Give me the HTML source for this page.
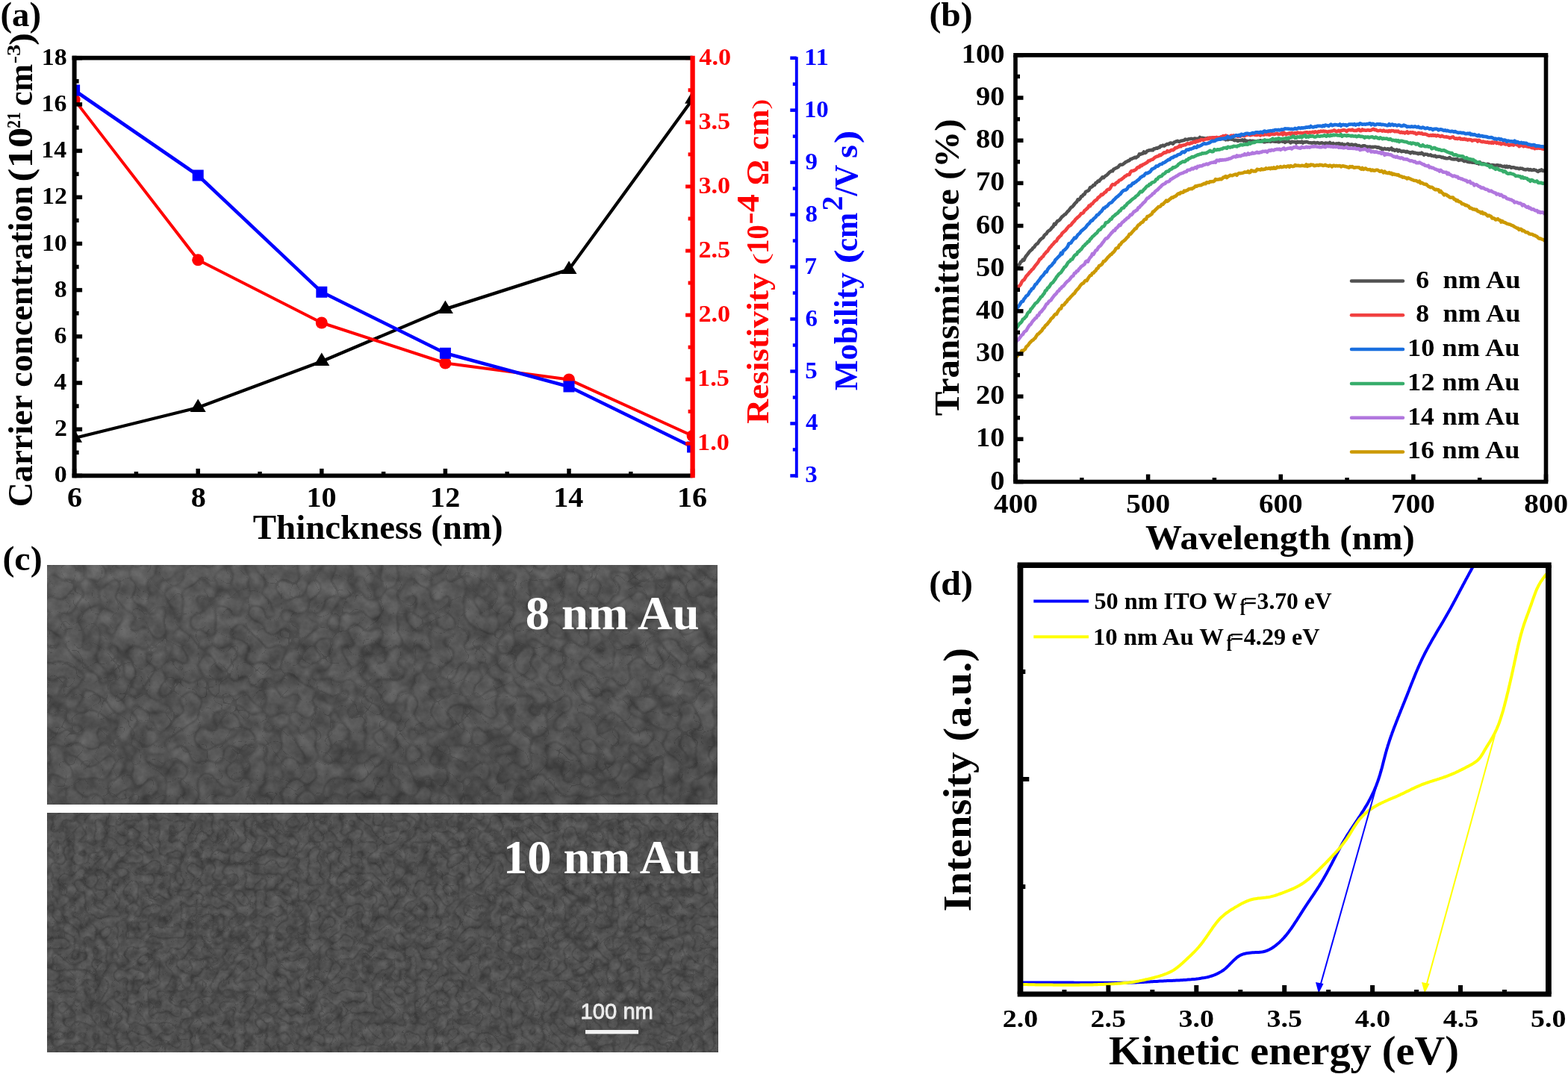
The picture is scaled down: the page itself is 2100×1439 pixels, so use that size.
<!DOCTYPE html>
<html><head><meta charset="utf-8"><title>Figure</title>
<style>html,body{margin:0;padding:0;background:#fff;width:2100px;height:1439px;overflow:hidden}svg{display:block}</style>
</head><body>
<svg width="2100" height="1439" viewBox="0 0 2100 1439" font-family="'Liberation Serif','Times New Roman',serif"><clipPath id="clipA"><rect x="99.6" y="77.7" width="828.0" height="559.6999999999999"/></clipPath>
<g clip-path="url(#clipA)">
<polyline points="99.6,587.0 265.2,546.1 430.8,484.2 596.4,414.1 762.0,361.1 927.6,133.0" fill="none" stroke="#000" stroke-width="4.3" stroke-linejoin="round" />
<polygon points="99.6,575.3 110.1,592.8 89.1,592.8" fill="#000"/>
<polygon points="265.2,534.4 275.7,551.9 254.7,551.9" fill="#000"/>
<polygon points="430.8,472.5 441.3,490.0 420.3,490.0" fill="#000"/>
<polygon points="596.4,402.4 606.9,419.9 585.9,419.9" fill="#000"/>
<polygon points="762.0,349.4 772.5,366.9 751.5,366.9" fill="#000"/>
<polygon points="927.6,121.3 938.1,138.8 917.1,138.8" fill="#000"/>
<polyline points="99.6,133.6 265.2,348.3 430.8,432.5 596.4,486.5 762.0,508.5 927.6,584.0" fill="none" stroke="#f00" stroke-width="4.0" stroke-linejoin="round" />
<circle cx="99.6" cy="133.6" r="8" fill="#f00"/>
<circle cx="265.2" cy="348.3" r="8" fill="#f00"/>
<circle cx="430.8" cy="432.5" r="8" fill="#f00"/>
<circle cx="596.4" cy="486.5" r="8" fill="#f00"/>
<circle cx="762.0" cy="508.5" r="8" fill="#f00"/>
<circle cx="927.6" cy="584.0" r="8" fill="#f00"/>
<polyline points="99.6,121.0 265.2,235.0 430.8,391.3 596.4,473.3 762.0,518.0 927.6,599.0" fill="none" stroke="#00f" stroke-width="4.6" stroke-linejoin="round" />
<rect x="92.1" y="113.5" width="15" height="15" fill="#00f"/>
<rect x="257.7" y="227.5" width="15" height="15" fill="#00f"/>
<rect x="423.3" y="383.8" width="15" height="15" fill="#00f"/>
<rect x="588.9" y="465.8" width="15" height="15" fill="#00f"/>
<rect x="754.5" y="510.5" width="15" height="15" fill="#00f"/>
<rect x="920.1" y="591.5" width="15" height="15" fill="#00f"/>
</g>
<line x1="99.60" y1="637.40" x2="110.10" y2="637.40" stroke="#000" stroke-width="5.5" stroke-linecap="butt"/>
<line x1="99.60" y1="606.31" x2="105.60" y2="606.31" stroke="#000" stroke-width="5.5" stroke-linecap="butt"/>
<line x1="99.60" y1="575.21" x2="110.10" y2="575.21" stroke="#000" stroke-width="5.5" stroke-linecap="butt"/>
<line x1="99.60" y1="544.12" x2="105.60" y2="544.12" stroke="#000" stroke-width="5.5" stroke-linecap="butt"/>
<line x1="99.60" y1="513.02" x2="110.10" y2="513.02" stroke="#000" stroke-width="5.5" stroke-linecap="butt"/>
<line x1="99.60" y1="481.93" x2="105.60" y2="481.93" stroke="#000" stroke-width="5.5" stroke-linecap="butt"/>
<line x1="99.60" y1="450.83" x2="110.10" y2="450.83" stroke="#000" stroke-width="5.5" stroke-linecap="butt"/>
<line x1="99.60" y1="419.74" x2="105.60" y2="419.74" stroke="#000" stroke-width="5.5" stroke-linecap="butt"/>
<line x1="99.60" y1="388.64" x2="110.10" y2="388.64" stroke="#000" stroke-width="5.5" stroke-linecap="butt"/>
<line x1="99.60" y1="357.55" x2="105.60" y2="357.55" stroke="#000" stroke-width="5.5" stroke-linecap="butt"/>
<line x1="99.60" y1="326.46" x2="110.10" y2="326.46" stroke="#000" stroke-width="5.5" stroke-linecap="butt"/>
<line x1="99.60" y1="295.36" x2="105.60" y2="295.36" stroke="#000" stroke-width="5.5" stroke-linecap="butt"/>
<line x1="99.60" y1="264.27" x2="110.10" y2="264.27" stroke="#000" stroke-width="5.5" stroke-linecap="butt"/>
<line x1="99.60" y1="233.17" x2="105.60" y2="233.17" stroke="#000" stroke-width="5.5" stroke-linecap="butt"/>
<line x1="99.60" y1="202.08" x2="110.10" y2="202.08" stroke="#000" stroke-width="5.5" stroke-linecap="butt"/>
<line x1="99.60" y1="170.98" x2="105.60" y2="170.98" stroke="#000" stroke-width="5.5" stroke-linecap="butt"/>
<line x1="99.60" y1="139.89" x2="110.10" y2="139.89" stroke="#000" stroke-width="5.5" stroke-linecap="butt"/>
<line x1="99.60" y1="108.79" x2="105.60" y2="108.79" stroke="#000" stroke-width="5.5" stroke-linecap="butt"/>
<line x1="99.60" y1="77.70" x2="110.10" y2="77.70" stroke="#000" stroke-width="5.5" stroke-linecap="butt"/>
<line x1="99.60" y1="637.40" x2="99.60" y2="627.90" stroke="#000" stroke-width="5.5" stroke-linecap="butt"/>
<line x1="182.40" y1="637.40" x2="182.40" y2="631.90" stroke="#000" stroke-width="5.5" stroke-linecap="butt"/>
<line x1="265.20" y1="637.40" x2="265.20" y2="627.90" stroke="#000" stroke-width="5.5" stroke-linecap="butt"/>
<line x1="348.00" y1="637.40" x2="348.00" y2="631.90" stroke="#000" stroke-width="5.5" stroke-linecap="butt"/>
<line x1="430.80" y1="637.40" x2="430.80" y2="627.90" stroke="#000" stroke-width="5.5" stroke-linecap="butt"/>
<line x1="513.60" y1="637.40" x2="513.60" y2="631.90" stroke="#000" stroke-width="5.5" stroke-linecap="butt"/>
<line x1="596.40" y1="637.40" x2="596.40" y2="627.90" stroke="#000" stroke-width="5.5" stroke-linecap="butt"/>
<line x1="679.20" y1="637.40" x2="679.20" y2="631.90" stroke="#000" stroke-width="5.5" stroke-linecap="butt"/>
<line x1="762.00" y1="637.40" x2="762.00" y2="627.90" stroke="#000" stroke-width="5.5" stroke-linecap="butt"/>
<line x1="844.80" y1="637.40" x2="844.80" y2="631.90" stroke="#000" stroke-width="5.5" stroke-linecap="butt"/>
<line x1="927.60" y1="637.40" x2="927.60" y2="627.90" stroke="#000" stroke-width="5.5" stroke-linecap="butt"/>
<line x1="927.60" y1="637.40" x2="921.60" y2="637.40" stroke="#f00" stroke-width="5" stroke-linecap="butt"/>
<line x1="927.60" y1="594.35" x2="918.10" y2="594.35" stroke="#f00" stroke-width="5" stroke-linecap="butt"/>
<line x1="927.60" y1="551.29" x2="921.60" y2="551.29" stroke="#f00" stroke-width="5" stroke-linecap="butt"/>
<line x1="927.60" y1="508.24" x2="918.10" y2="508.24" stroke="#f00" stroke-width="5" stroke-linecap="butt"/>
<line x1="927.60" y1="465.18" x2="921.60" y2="465.18" stroke="#f00" stroke-width="5" stroke-linecap="butt"/>
<line x1="927.60" y1="422.13" x2="918.10" y2="422.13" stroke="#f00" stroke-width="5" stroke-linecap="butt"/>
<line x1="927.60" y1="379.08" x2="921.60" y2="379.08" stroke="#f00" stroke-width="5" stroke-linecap="butt"/>
<line x1="927.60" y1="336.02" x2="918.10" y2="336.02" stroke="#f00" stroke-width="5" stroke-linecap="butt"/>
<line x1="927.60" y1="292.97" x2="921.60" y2="292.97" stroke="#f00" stroke-width="5" stroke-linecap="butt"/>
<line x1="927.60" y1="249.92" x2="918.10" y2="249.92" stroke="#f00" stroke-width="5" stroke-linecap="butt"/>
<line x1="927.60" y1="206.86" x2="921.60" y2="206.86" stroke="#f00" stroke-width="5" stroke-linecap="butt"/>
<line x1="927.60" y1="163.81" x2="918.10" y2="163.81" stroke="#f00" stroke-width="5" stroke-linecap="butt"/>
<line x1="927.60" y1="120.75" x2="921.60" y2="120.75" stroke="#f00" stroke-width="5" stroke-linecap="butt"/>
<line x1="927.60" y1="77.70" x2="918.10" y2="77.70" stroke="#f00" stroke-width="5" stroke-linecap="butt"/>
<line x1="1066.80" y1="637.40" x2="1058.30" y2="637.40" stroke="#00f" stroke-width="4.5" stroke-linecap="butt"/>
<line x1="1066.80" y1="602.42" x2="1061.80" y2="602.42" stroke="#00f" stroke-width="4.5" stroke-linecap="butt"/>
<line x1="1066.80" y1="567.44" x2="1058.30" y2="567.44" stroke="#00f" stroke-width="4.5" stroke-linecap="butt"/>
<line x1="1066.80" y1="532.46" x2="1061.80" y2="532.46" stroke="#00f" stroke-width="4.5" stroke-linecap="butt"/>
<line x1="1066.80" y1="497.48" x2="1058.30" y2="497.48" stroke="#00f" stroke-width="4.5" stroke-linecap="butt"/>
<line x1="1066.80" y1="462.49" x2="1061.80" y2="462.49" stroke="#00f" stroke-width="4.5" stroke-linecap="butt"/>
<line x1="1066.80" y1="427.51" x2="1058.30" y2="427.51" stroke="#00f" stroke-width="4.5" stroke-linecap="butt"/>
<line x1="1066.80" y1="392.53" x2="1061.80" y2="392.53" stroke="#00f" stroke-width="4.5" stroke-linecap="butt"/>
<line x1="1066.80" y1="357.55" x2="1058.30" y2="357.55" stroke="#00f" stroke-width="4.5" stroke-linecap="butt"/>
<line x1="1066.80" y1="322.57" x2="1061.80" y2="322.57" stroke="#00f" stroke-width="4.5" stroke-linecap="butt"/>
<line x1="1066.80" y1="287.59" x2="1058.30" y2="287.59" stroke="#00f" stroke-width="4.5" stroke-linecap="butt"/>
<line x1="1066.80" y1="252.61" x2="1061.80" y2="252.61" stroke="#00f" stroke-width="4.5" stroke-linecap="butt"/>
<line x1="1066.80" y1="217.62" x2="1058.30" y2="217.62" stroke="#00f" stroke-width="4.5" stroke-linecap="butt"/>
<line x1="1066.80" y1="182.64" x2="1061.80" y2="182.64" stroke="#00f" stroke-width="4.5" stroke-linecap="butt"/>
<line x1="1066.80" y1="147.66" x2="1058.30" y2="147.66" stroke="#00f" stroke-width="4.5" stroke-linecap="butt"/>
<line x1="1066.80" y1="112.68" x2="1061.80" y2="112.68" stroke="#00f" stroke-width="4.5" stroke-linecap="butt"/>
<line x1="1066.80" y1="77.70" x2="1058.30" y2="77.70" stroke="#00f" stroke-width="4.5" stroke-linecap="butt"/>
<line x1="1066.80" y1="76.20" x2="1066.80" y2="639.90" stroke="#00f" stroke-width="3.9" stroke-linecap="butt"/>
<line x1="96.60" y1="77.70" x2="927.60" y2="77.70" stroke="#000" stroke-width="5.8" stroke-linecap="butt"/>
<line x1="96.60" y1="637.40" x2="927.60" y2="637.40" stroke="#000" stroke-width="5.8" stroke-linecap="butt"/>
<line x1="99.60" y1="74.80" x2="99.60" y2="640.30" stroke="#000" stroke-width="6" stroke-linecap="butt"/>
<line x1="927.60" y1="74.80" x2="927.60" y2="640.30" stroke="#f00" stroke-width="6.3" stroke-linecap="butt"/>
<text x="72.8" y="646.4" font-size="32" text-anchor="start" fill="#000" font-weight="bold" textLength="16.96" lengthAdjust="spacingAndGlyphs" >0</text>
<text x="73.0" y="584.2" font-size="32" text-anchor="start" fill="#000" font-weight="bold" textLength="16.96" lengthAdjust="spacingAndGlyphs" >2</text>
<text x="72.2" y="522.0" font-size="32" text-anchor="start" fill="#000" font-weight="bold" textLength="16.96" lengthAdjust="spacingAndGlyphs" >4</text>
<text x="72.5" y="459.8" font-size="32" text-anchor="start" fill="#000" font-weight="bold" textLength="16.96" lengthAdjust="spacingAndGlyphs" >6</text>
<text x="72.7" y="397.6" font-size="32" text-anchor="start" fill="#000" font-weight="bold" textLength="16.96" lengthAdjust="spacingAndGlyphs" >8</text>
<text x="55.9" y="335.5" font-size="32" text-anchor="start" fill="#000" font-weight="bold" textLength="33.92" lengthAdjust="spacingAndGlyphs" >10</text>
<text x="56.0" y="273.3" font-size="32" text-anchor="start" fill="#000" font-weight="bold" textLength="33.92" lengthAdjust="spacingAndGlyphs" >12</text>
<text x="55.2" y="211.1" font-size="32" text-anchor="start" fill="#000" font-weight="bold" textLength="33.92" lengthAdjust="spacingAndGlyphs" >14</text>
<text x="55.6" y="148.9" font-size="32" text-anchor="start" fill="#000" font-weight="bold" textLength="33.92" lengthAdjust="spacingAndGlyphs" >16</text>
<text x="55.7" y="86.7" font-size="32" text-anchor="start" fill="#000" font-weight="bold" textLength="33.92" lengthAdjust="spacingAndGlyphs" >18</text>
<text x="90.0" y="679.0" font-size="37.5" text-anchor="start" fill="#000" font-weight="bold" textLength="20.06" lengthAdjust="spacingAndGlyphs" >6</text>
<text x="255.7" y="679.0" font-size="37.5" text-anchor="start" fill="#000" font-weight="bold" textLength="20.06" lengthAdjust="spacingAndGlyphs" >8</text>
<text x="410.4" y="679.0" font-size="37.5" text-anchor="start" fill="#000" font-weight="bold" textLength="40.12" lengthAdjust="spacingAndGlyphs" >10</text>
<text x="576.1" y="679.0" font-size="37.5" text-anchor="start" fill="#000" font-weight="bold" textLength="40.12" lengthAdjust="spacingAndGlyphs" >12</text>
<text x="741.2" y="679.0" font-size="37.5" text-anchor="start" fill="#000" font-weight="bold" textLength="40.12" lengthAdjust="spacingAndGlyphs" >14</text>
<text x="907.0" y="679.0" font-size="37.5" text-anchor="start" fill="#000" font-weight="bold" textLength="40.12" lengthAdjust="spacingAndGlyphs" >16</text>
<text x="934.1" y="603.1" font-size="30.5" text-anchor="start" fill="#f00" font-weight="bold" textLength="42.7" lengthAdjust="spacingAndGlyphs" >1.0</text>
<text x="934.1" y="517.0" font-size="30.5" text-anchor="start" fill="#f00" font-weight="bold" textLength="42.7" lengthAdjust="spacingAndGlyphs" >1.5</text>
<text x="935.4" y="430.9" font-size="30.5" text-anchor="start" fill="#f00" font-weight="bold" textLength="42.7" lengthAdjust="spacingAndGlyphs" >2.0</text>
<text x="935.4" y="344.8" font-size="30.5" text-anchor="start" fill="#f00" font-weight="bold" textLength="42.7" lengthAdjust="spacingAndGlyphs" >2.5</text>
<text x="935.5" y="258.7" font-size="30.5" text-anchor="start" fill="#f00" font-weight="bold" textLength="42.7" lengthAdjust="spacingAndGlyphs" >3.0</text>
<text x="935.5" y="172.6" font-size="30.5" text-anchor="start" fill="#f00" font-weight="bold" textLength="42.7" lengthAdjust="spacingAndGlyphs" >3.5</text>
<text x="936.3" y="86.5" font-size="30.5" text-anchor="start" fill="#f00" font-weight="bold" textLength="42.7" lengthAdjust="spacingAndGlyphs" >4.0</text>
<text x="1078.3" y="646.4" font-size="30.5" text-anchor="start" fill="#00f" font-weight="bold" textLength="16.47" lengthAdjust="spacingAndGlyphs" >3</text>
<text x="1079.0" y="576.4" font-size="30.5" text-anchor="start" fill="#00f" font-weight="bold" textLength="16.47" lengthAdjust="spacingAndGlyphs" >4</text>
<text x="1078.2" y="506.5" font-size="30.5" text-anchor="start" fill="#00f" font-weight="bold" textLength="16.47" lengthAdjust="spacingAndGlyphs" >5</text>
<text x="1078.4" y="436.5" font-size="30.5" text-anchor="start" fill="#00f" font-weight="bold" textLength="16.47" lengthAdjust="spacingAndGlyphs" >6</text>
<text x="1077.6" y="366.6" font-size="30.5" text-anchor="start" fill="#00f" font-weight="bold" textLength="16.47" lengthAdjust="spacingAndGlyphs" >7</text>
<text x="1078.4" y="296.6" font-size="30.5" text-anchor="start" fill="#00f" font-weight="bold" textLength="16.47" lengthAdjust="spacingAndGlyphs" >8</text>
<text x="1078.6" y="226.6" font-size="30.5" text-anchor="start" fill="#00f" font-weight="bold" textLength="16.47" lengthAdjust="spacingAndGlyphs" >9</text>
<text x="1076.9" y="156.7" font-size="30.5" text-anchor="start" fill="#00f" font-weight="bold" textLength="32.94" lengthAdjust="spacingAndGlyphs" >10</text>
<text x="1076.9" y="86.7" font-size="30.5" text-anchor="start" fill="#00f" font-weight="bold" textLength="32.94" lengthAdjust="spacingAndGlyphs" >11</text>
<text x="0.4" y="35.1" font-size="46" text-anchor="start" fill="#000" font-weight="bold" textLength="54.62" lengthAdjust="spacingAndGlyphs" >(a)</text>
<text x="338.8" y="721.5" font-size="46" text-anchor="start" fill="#000" font-weight="bold" textLength="334.79" lengthAdjust="spacingAndGlyphs" >Thinckness (nm)</text>
<text x="42.7" y="679.2" font-size="46" text-anchor="start" fill="#000" font-weight="bold" textLength="430.12" lengthAdjust="spacingAndGlyphs" transform="rotate(-90 42.7 679.2)" >Carrier concentration</text>
<text x="42.7" y="243.7" font-size="46" text-anchor="start" fill="#000" font-weight="bold" textLength="73.1" lengthAdjust="spacingAndGlyphs" transform="rotate(-90 42.7 243.7)" >(10</text>
<text x="27.0" y="171.9" font-size="26" text-anchor="start" fill="#000" font-weight="bold" textLength="21.85" lengthAdjust="spacingAndGlyphs" transform="rotate(-90 27.0 171.9)" >21</text>
<text x="42.7" y="141.9" font-size="46" text-anchor="start" fill="#000" font-weight="bold" textLength="56.15" lengthAdjust="spacingAndGlyphs" transform="rotate(-90 42.7 141.9)" >cm</text>
<text x="27.0" y="85.3" font-size="26" text-anchor="start" fill="#000" font-weight="bold" textLength="25.9" lengthAdjust="spacingAndGlyphs" transform="rotate(-90 27.0 85.3)" >-3</text>
<text x="43.2" y="60.9" font-size="44.4" text-anchor="start" fill="#000" font-weight="bold" textLength="17.11" lengthAdjust="spacingAndGlyphs" transform="rotate(-90 43.2 60.9)" >)</text>
<text x="1028.7" y="567.8" font-size="43" text-anchor="start" fill="#f00" font-weight="bold" textLength="201.42" lengthAdjust="spacingAndGlyphs" transform="rotate(-90 1028.7 567.8)" >Resistivity</text>
<text x="1028.5" y="355.0" font-size="30" text-anchor="start" fill="#f00" font-weight="normal" textLength="16.08" lengthAdjust="spacingAndGlyphs" transform="rotate(-90 1028.5 355.0)" >(</text>
<text x="1028.7" y="339.7" font-size="43" text-anchor="start" fill="#f00" font-weight="bold" textLength="38.67" lengthAdjust="spacingAndGlyphs" transform="rotate(-90 1028.7 339.7)" >10</text>
<text x="1015.5" y="300.5" font-size="43" text-anchor="start" fill="#f00" font-weight="bold" textLength="40.37" lengthAdjust="spacingAndGlyphs" transform="rotate(-90 1015.5 300.5)" >-4</text>
<text x="1028.7" y="248.3" font-size="43" text-anchor="start" fill="#f00" font-weight="bold" textLength="34.24" lengthAdjust="spacingAndGlyphs" transform="rotate(-90 1028.7 248.3)" >Ω</text>
<text x="1028.7" y="200.9" font-size="43" text-anchor="start" fill="#f00" font-weight="bold" textLength="54.28" lengthAdjust="spacingAndGlyphs" transform="rotate(-90 1028.7 200.9)" >cm</text>
<text x="1028.5" y="146.6" font-size="30" text-anchor="start" fill="#f00" font-weight="normal" textLength="13.87" lengthAdjust="spacingAndGlyphs" transform="rotate(-90 1028.5 146.6)" >)</text>
<text x="1148.5" y="523.2" font-size="44" text-anchor="start" fill="#00f" font-weight="bold" textLength="158.06" lengthAdjust="spacingAndGlyphs" transform="rotate(-90 1148.5 523.2)" >Mobility</text>
<text x="1148.5" y="353.4" font-size="44" text-anchor="start" fill="#00f" font-weight="bold" textLength="19.45" lengthAdjust="spacingAndGlyphs" transform="rotate(-90 1148.5 353.4)" >(</text>
<text x="1148.5" y="337.2" font-size="44" text-anchor="start" fill="#00f" font-weight="bold" textLength="52.3" lengthAdjust="spacingAndGlyphs" transform="rotate(-90 1148.5 337.2)" >cm</text>
<text x="1128.0" y="282.5" font-size="40" text-anchor="start" fill="#00f" font-weight="bold" textLength="20.0" lengthAdjust="spacingAndGlyphs" transform="rotate(-90 1128.0 282.5)" >2</text>
<text x="1148.5" y="262.6" font-size="44" text-anchor="start" fill="#00f" font-weight="bold" textLength="41.86" lengthAdjust="spacingAndGlyphs" transform="rotate(-90 1148.5 262.6)" >/V</text>
<text x="1148.5" y="211.9" font-size="44" text-anchor="start" fill="#00f" font-weight="bold" textLength="17.8" lengthAdjust="spacingAndGlyphs" transform="rotate(-90 1148.5 211.9)" >s</text>
<text x="1148.5" y="192.3" font-size="44" text-anchor="start" fill="#00f" font-weight="bold" textLength="17.63" lengthAdjust="spacingAndGlyphs" transform="rotate(-90 1148.5 192.3)" >)</text>
<clipPath id="clipB"><rect x="1360.0" y="73.9" width="710.5" height="571.6"/></clipPath>
<g clip-path="url(#clipB)">
<polyline points="1358.0,365.3 1359.5,360.5 1361.0,360.3 1362.5,357.7 1364.0,355.8 1365.5,354.0 1367.0,351.0 1368.5,350.1 1370.0,347.9 1371.5,348.5 1373.0,344.8 1374.5,342.7 1376.0,340.9 1377.5,338.9 1379.0,336.9 1380.5,335.5 1382.0,334.3 1383.5,332.2 1385.0,331.2 1386.5,328.8 1388.0,327.2 1389.5,326.5 1391.0,324.2 1392.5,322.0 1394.0,320.5 1395.5,319.3 1397.0,318.5 1398.5,315.6 1400.0,314.0 1401.5,313.2 1403.0,310.5 1404.5,309.3 1406.0,308.4 1407.5,306.7 1409.0,304.8 1410.5,303.6 1412.0,299.9 1413.5,300.7 1415.0,298.0 1416.5,296.0 1418.0,295.6 1419.5,294.3 1421.0,292.1 1422.5,290.2 1424.0,289.3 1425.5,287.7 1427.0,287.0 1428.5,285.1 1430.0,283.2 1431.5,282.1 1433.0,279.8 1434.5,277.8 1436.0,277.1 1437.5,275.5 1439.0,273.5 1440.5,271.6 1442.0,270.6 1443.5,267.4 1445.0,267.8 1446.5,266.1 1448.0,263.3 1449.5,262.8 1451.0,260.7 1452.5,260.2 1454.0,257.0 1455.5,256.2 1457.0,255.8 1458.5,254.6 1460.0,251.2 1461.5,250.8 1463.0,249.9 1464.5,248.0 1466.0,248.0 1467.5,245.0 1469.0,244.7 1470.5,242.6 1472.0,242.8 1473.5,240.7 1475.0,239.3 1476.5,237.3 1478.0,238.2 1479.5,236.5 1481.0,235.4 1482.5,234.5 1484.0,232.9 1485.5,231.2 1487.0,230.1 1488.5,229.0 1490.0,229.3 1491.5,226.6 1493.0,226.1 1494.5,225.2 1496.0,224.6 1497.5,223.8 1499.0,221.8 1500.5,220.6 1502.0,220.7 1503.5,220.5 1505.0,219.3 1506.5,218.1 1508.0,216.9 1509.5,216.4 1511.0,215.3 1512.5,215.1 1514.0,213.3 1515.5,213.0 1517.0,212.1 1518.5,211.7 1520.0,210.7 1521.5,211.4 1523.0,210.0 1524.5,209.3 1526.0,206.4 1527.5,206.8 1529.0,205.9 1530.5,205.9 1532.0,203.5 1533.5,205.0 1535.0,204.2 1536.5,202.2 1538.0,201.8 1539.5,201.2 1541.0,201.1 1542.5,200.9 1544.0,201.2 1545.5,199.3 1547.0,199.3 1548.5,198.4 1550.0,198.8 1551.5,197.6 1553.0,197.5 1554.5,195.5 1556.0,195.6 1557.5,194.7 1559.0,195.6 1560.5,194.6 1562.0,193.6 1563.5,193.0 1565.0,193.2 1566.5,192.0 1568.0,191.5 1569.5,191.9 1571.0,192.7 1572.5,190.7 1574.0,190.1 1575.5,189.4 1577.0,188.9 1578.5,189.7 1580.0,189.6 1581.5,188.7 1583.0,188.6 1584.5,188.2 1586.0,187.9 1587.5,186.6 1589.0,187.0 1590.5,187.1 1592.0,186.3 1593.5,186.3 1595.0,185.9 1596.5,186.0 1598.0,186.5 1599.5,185.6 1601.0,185.6 1602.5,186.0 1604.0,185.8 1605.5,186.3 1607.0,183.9 1608.5,185.6 1610.0,184.7 1611.5,185.0 1613.0,185.4 1614.5,185.5 1616.0,185.5 1617.5,184.9 1619.0,185.8 1620.5,184.7 1622.0,184.8 1623.5,185.5 1625.0,184.7 1626.5,186.4 1628.0,185.8 1629.5,186.6 1631.0,185.4 1632.5,185.3 1634.0,185.7 1635.5,186.2 1637.0,185.5 1638.5,186.2 1640.0,186.1 1641.5,187.3 1643.0,186.0 1644.5,187.2 1646.0,186.4 1647.5,186.3 1649.0,186.6 1650.5,186.5 1652.0,187.4 1653.5,188.1 1655.0,187.7 1656.5,188.1 1658.0,188.9 1659.5,188.2 1661.0,188.3 1662.5,188.1 1664.0,187.4 1665.5,188.9 1667.0,187.5 1668.5,189.1 1670.0,188.7 1671.5,189.5 1673.0,188.9 1674.5,188.5 1676.0,189.2 1677.5,188.8 1679.0,189.0 1680.5,189.2 1682.0,189.2 1683.5,189.2 1685.0,188.8 1686.5,189.2 1688.0,188.1 1689.5,189.3 1691.0,188.7 1692.5,190.1 1694.0,190.3 1695.5,188.4 1697.0,189.6 1698.5,189.5 1700.0,188.9 1701.5,189.9 1703.0,189.3 1704.5,188.6 1706.0,189.5 1707.5,189.6 1709.0,189.7 1710.5,188.9 1712.0,190.1 1713.5,190.1 1715.0,189.0 1716.5,189.3 1718.0,189.7 1719.5,189.4 1721.0,190.8 1722.5,189.9 1724.0,189.2 1725.5,189.4 1727.0,189.9 1728.5,191.3 1730.0,189.9 1731.5,190.1 1733.0,190.3 1734.5,190.1 1736.0,191.5 1737.5,189.8 1739.0,190.6 1740.5,190.3 1742.0,190.7 1743.5,189.6 1745.0,191.5 1746.5,190.4 1748.0,190.5 1749.5,190.0 1751.0,190.2 1752.5,191.0 1754.0,191.3 1755.5,191.2 1757.0,191.6 1758.5,191.3 1760.0,191.0 1761.5,191.6 1763.0,191.5 1764.5,191.1 1766.0,191.7 1767.5,192.1 1769.0,191.6 1770.5,191.3 1772.0,192.0 1773.5,192.8 1775.0,191.6 1776.5,191.8 1778.0,191.9 1779.5,192.8 1781.0,191.0 1782.5,192.5 1784.0,193.0 1785.5,191.9 1787.0,193.4 1788.5,193.0 1790.0,192.4 1791.5,193.0 1793.0,192.0 1794.5,192.7 1796.0,194.3 1797.5,192.8 1799.0,194.5 1800.5,193.5 1802.0,194.2 1803.5,193.8 1805.0,192.6 1806.5,193.7 1808.0,194.3 1809.5,193.6 1811.0,193.6 1812.5,194.8 1814.0,194.3 1815.5,193.8 1817.0,194.6 1818.5,195.6 1820.0,195.0 1821.5,196.0 1823.0,196.5 1824.5,195.7 1826.0,195.2 1827.5,195.2 1829.0,196.2 1830.5,196.9 1832.0,196.6 1833.5,197.0 1835.0,196.5 1836.5,197.2 1838.0,196.9 1839.5,197.1 1841.0,196.7 1842.5,196.7 1844.0,197.6 1845.5,197.4 1847.0,197.6 1848.5,198.8 1850.0,198.5 1851.5,200.5 1853.0,199.5 1854.5,198.8 1856.0,199.8 1857.5,199.7 1859.0,199.3 1860.5,200.6 1862.0,199.7 1863.5,198.5 1865.0,201.0 1866.5,200.4 1868.0,201.8 1869.5,200.8 1871.0,200.6 1872.5,202.5 1874.0,201.1 1875.5,202.1 1877.0,203.1 1878.5,202.5 1880.0,202.6 1881.5,202.9 1883.0,203.6 1884.5,202.8 1886.0,203.9 1887.5,204.1 1889.0,205.3 1890.5,204.0 1892.0,203.8 1893.5,205.1 1895.0,204.6 1896.5,205.3 1898.0,205.4 1899.5,206.2 1901.0,205.4 1902.5,205.9 1904.0,204.7 1905.5,205.9 1907.0,207.6 1908.5,206.5 1910.0,206.7 1911.5,206.7 1913.0,208.0 1914.5,208.0 1916.0,207.4 1917.5,208.7 1919.0,208.7 1920.5,209.3 1922.0,208.7 1923.5,210.3 1925.0,209.8 1926.5,209.7 1928.0,209.7 1929.5,210.1 1931.0,211.0 1932.5,210.6 1934.0,211.6 1935.5,211.6 1937.0,212.3 1938.5,212.2 1940.0,211.9 1941.5,211.0 1943.0,212.6 1944.5,213.1 1946.0,213.0 1947.5,213.5 1949.0,213.1 1950.5,213.4 1952.0,213.3 1953.5,214.9 1955.0,214.4 1956.5,214.3 1958.0,214.0 1959.5,215.0 1961.0,216.1 1962.5,215.8 1964.0,215.3 1965.5,216.8 1967.0,217.1 1968.5,217.0 1970.0,217.2 1971.5,217.6 1973.0,217.5 1974.5,217.9 1976.0,217.1 1977.5,218.7 1979.0,218.2 1980.5,219.5 1982.0,217.3 1983.5,219.2 1985.0,219.6 1986.5,219.0 1988.0,219.7 1989.5,220.1 1991.0,220.2 1992.5,219.8 1994.0,220.2 1995.5,221.1 1997.0,221.5 1998.5,221.0 2000.0,221.2 2001.5,221.5 2003.0,222.2 2004.5,221.2 2006.0,221.2 2007.5,222.3 2009.0,221.8 2010.5,222.3 2012.0,222.9 2013.5,223.3 2015.0,222.6 2016.5,223.9 2018.0,222.6 2019.5,224.1 2021.0,223.1 2022.5,223.4 2024.0,224.8 2025.5,224.3 2027.0,224.3 2028.5,224.7 2030.0,225.4 2031.5,225.3 2033.0,225.5 2034.5,226.3 2036.0,225.4 2037.5,225.7 2039.0,225.9 2040.5,227.0 2042.0,227.1 2043.5,227.4 2045.0,226.8 2046.5,226.9 2048.0,227.7 2049.5,227.1 2051.0,227.9 2052.5,228.0 2054.0,227.3 2055.5,227.8 2057.0,228.0 2058.5,229.2 2060.0,229.9 2061.5,228.4 2063.0,228.6 2064.5,227.3 2066.0,228.9 2067.5,228.9 2069.0,228.4" fill="none" stroke="#515151" stroke-width="4.6" stroke-linejoin="round" />
<polyline points="1358.0,392.9 1359.5,389.5 1361.0,388.3 1362.5,386.5 1364.0,383.7 1365.5,382.9 1367.0,381.1 1368.5,377.6 1370.0,375.7 1371.5,374.9 1373.0,372.6 1374.5,369.9 1376.0,368.5 1377.5,366.7 1379.0,364.8 1380.5,363.5 1382.0,361.3 1383.5,360.3 1385.0,358.2 1386.5,355.9 1388.0,354.2 1389.5,352.5 1391.0,350.3 1392.5,347.3 1394.0,346.8 1395.5,344.5 1397.0,343.6 1398.5,340.9 1400.0,339.4 1401.5,337.5 1403.0,336.5 1404.5,333.8 1406.0,331.8 1407.5,330.4 1409.0,328.2 1410.5,326.9 1412.0,325.0 1413.5,323.5 1415.0,322.8 1416.5,319.7 1418.0,318.3 1419.5,316.5 1421.0,315.4 1422.5,312.6 1424.0,311.2 1425.5,310.0 1427.0,308.7 1428.5,306.8 1430.0,304.9 1431.5,303.1 1433.0,302.3 1434.5,301.3 1436.0,299.1 1437.5,297.4 1439.0,296.0 1440.5,293.7 1442.0,292.5 1443.5,291.0 1445.0,289.9 1446.5,288.2 1448.0,286.0 1449.5,285.9 1451.0,284.8 1452.5,282.1 1454.0,281.1 1455.5,279.6 1457.0,278.4 1458.5,275.7 1460.0,276.1 1461.5,273.5 1463.0,273.1 1464.5,271.0 1466.0,269.4 1467.5,268.2 1469.0,267.4 1470.5,265.0 1472.0,264.0 1473.5,262.6 1475.0,260.6 1476.5,261.1 1478.0,259.4 1479.5,257.7 1481.0,257.2 1482.5,254.7 1484.0,253.9 1485.5,253.8 1487.0,252.1 1488.5,249.0 1490.0,247.1 1491.5,247.3 1493.0,247.4 1494.5,245.3 1496.0,244.3 1497.5,243.6 1499.0,241.6 1500.5,241.1 1502.0,240.3 1503.5,239.0 1505.0,237.9 1506.5,236.2 1508.0,235.8 1509.5,234.2 1511.0,234.1 1512.5,233.9 1514.0,230.8 1515.5,229.0 1517.0,229.0 1518.5,228.5 1520.0,227.9 1521.5,226.9 1523.0,224.8 1524.5,223.9 1526.0,224.1 1527.5,221.8 1529.0,222.2 1530.5,220.5 1532.0,220.2 1533.5,219.2 1535.0,218.4 1536.5,217.5 1538.0,215.6 1539.5,215.5 1541.0,214.5 1542.5,213.8 1544.0,213.6 1545.5,211.9 1547.0,210.8 1548.5,210.0 1550.0,209.5 1551.5,209.3 1553.0,207.6 1554.5,208.1 1556.0,206.8 1557.5,205.8 1559.0,204.4 1560.5,204.6 1562.0,204.2 1563.5,202.1 1565.0,203.2 1566.5,202.8 1568.0,201.4 1569.5,200.8 1571.0,201.3 1572.5,200.0 1574.0,198.1 1575.5,198.1 1577.0,197.4 1578.5,196.8 1580.0,194.9 1581.5,196.3 1583.0,194.9 1584.5,194.8 1586.0,194.2 1587.5,194.3 1589.0,193.1 1590.5,192.3 1592.0,192.6 1593.5,192.7 1595.0,191.2 1596.5,191.7 1598.0,190.7 1599.5,189.8 1601.0,190.6 1602.5,188.8 1604.0,189.5 1605.5,188.2 1607.0,188.4 1608.5,187.1 1610.0,187.0 1611.5,187.8 1613.0,186.9 1614.5,186.5 1616.0,186.0 1617.5,186.2 1619.0,184.8 1620.5,184.7 1622.0,185.1 1623.5,184.4 1625.0,184.3 1626.5,184.4 1628.0,184.2 1629.5,183.9 1631.0,184.9 1632.5,184.3 1634.0,184.2 1635.5,183.3 1637.0,182.9 1638.5,182.1 1640.0,182.7 1641.5,181.5 1643.0,182.2 1644.5,182.9 1646.0,183.3 1647.5,182.8 1649.0,181.6 1650.5,182.3 1652.0,181.4 1653.5,182.3 1655.0,181.7 1656.5,182.1 1658.0,183.1 1659.5,182.0 1661.0,182.8 1662.5,181.4 1664.0,181.0 1665.5,182.0 1667.0,182.1 1668.5,180.7 1670.0,181.0 1671.5,180.1 1673.0,180.7 1674.5,181.3 1676.0,180.7 1677.5,180.4 1679.0,179.8 1680.5,180.8 1682.0,181.0 1683.5,180.9 1685.0,180.6 1686.5,179.7 1688.0,181.4 1689.5,180.3 1691.0,180.2 1692.5,180.7 1694.0,178.9 1695.5,180.1 1697.0,180.0 1698.5,180.3 1700.0,180.8 1701.5,180.3 1703.0,178.8 1704.5,179.7 1706.0,179.9 1707.5,179.9 1709.0,179.0 1710.5,178.7 1712.0,180.0 1713.5,179.8 1715.0,179.5 1716.5,178.4 1718.0,180.5 1719.5,177.6 1721.0,179.0 1722.5,180.4 1724.0,179.0 1725.5,179.2 1727.0,178.3 1728.5,179.7 1730.0,178.1 1731.5,178.9 1733.0,178.8 1734.5,178.0 1736.0,179.0 1737.5,177.6 1739.0,177.9 1740.5,178.2 1742.0,177.9 1743.5,178.4 1745.0,178.6 1746.5,177.7 1748.0,177.5 1749.5,177.4 1751.0,177.4 1752.5,178.0 1754.0,177.3 1755.5,177.6 1757.0,177.2 1758.5,176.7 1760.0,177.6 1761.5,176.4 1763.0,176.9 1764.5,177.7 1766.0,176.1 1767.5,176.6 1769.0,175.6 1770.5,176.2 1772.0,175.5 1773.5,176.1 1775.0,175.9 1776.5,176.2 1778.0,177.0 1779.5,176.1 1781.0,176.3 1782.5,175.8 1784.0,175.6 1785.5,175.1 1787.0,174.5 1788.5,175.5 1790.0,176.4 1791.5,175.6 1793.0,174.9 1794.5,176.2 1796.0,174.9 1797.5,174.7 1799.0,174.3 1800.5,174.4 1802.0,174.8 1803.5,176.1 1805.0,174.7 1806.5,174.1 1808.0,174.3 1809.5,174.5 1811.0,173.6 1812.5,174.7 1814.0,175.0 1815.5,174.7 1817.0,174.9 1818.5,173.7 1820.0,173.4 1821.5,175.2 1823.0,175.1 1824.5,173.5 1826.0,174.5 1827.5,174.4 1829.0,174.8 1830.5,174.6 1832.0,174.1 1833.5,174.6 1835.0,174.6 1836.5,174.5 1838.0,173.4 1839.5,172.8 1841.0,174.1 1842.5,173.7 1844.0,174.8 1845.5,175.2 1847.0,175.0 1848.5,174.6 1850.0,175.0 1851.5,175.7 1853.0,174.6 1854.5,175.7 1856.0,175.7 1857.5,175.5 1859.0,176.3 1860.5,175.1 1862.0,176.2 1863.5,175.1 1865.0,175.3 1866.5,175.3 1868.0,176.3 1869.5,175.6 1871.0,176.3 1872.5,175.7 1874.0,177.1 1875.5,177.7 1877.0,176.9 1878.5,177.9 1880.0,177.4 1881.5,178.5 1883.0,177.4 1884.5,176.5 1886.0,178.5 1887.5,177.7 1889.0,177.3 1890.5,177.6 1892.0,177.2 1893.5,178.3 1895.0,177.9 1896.5,179.6 1898.0,179.2 1899.5,178.0 1901.0,178.3 1902.5,179.0 1904.0,178.4 1905.5,179.6 1907.0,179.8 1908.5,179.6 1910.0,179.9 1911.5,180.7 1913.0,181.4 1914.5,181.7 1916.0,181.0 1917.5,181.6 1919.0,180.9 1920.5,181.7 1922.0,181.1 1923.5,182.3 1925.0,181.3 1926.5,181.7 1928.0,182.4 1929.5,183.0 1931.0,181.9 1932.5,182.7 1934.0,183.3 1935.5,183.5 1937.0,183.1 1938.5,183.8 1940.0,183.8 1941.5,185.0 1943.0,184.7 1944.5,183.7 1946.0,183.4 1947.5,185.0 1949.0,185.8 1950.5,185.4 1952.0,186.0 1953.5,185.4 1955.0,185.0 1956.5,186.5 1958.0,186.3 1959.5,186.8 1961.0,185.8 1962.5,186.9 1964.0,186.6 1965.5,187.6 1967.0,187.0 1968.5,187.1 1970.0,187.3 1971.5,188.6 1973.0,188.0 1974.5,187.7 1976.0,187.8 1977.5,187.9 1979.0,189.6 1980.5,187.8 1982.0,188.6 1983.5,189.6 1985.0,190.1 1986.5,189.5 1988.0,190.2 1989.5,190.4 1991.0,190.7 1992.5,190.3 1994.0,191.4 1995.5,190.7 1997.0,191.7 1998.5,190.3 2000.0,191.7 2001.5,190.6 2003.0,190.6 2004.5,191.9 2006.0,191.3 2007.5,192.3 2009.0,191.5 2010.5,193.3 2012.0,192.5 2013.5,192.0 2015.0,192.9 2016.5,193.5 2018.0,192.7 2019.5,193.7 2021.0,194.8 2022.5,194.2 2024.0,193.9 2025.5,193.7 2027.0,194.6 2028.5,193.5 2030.0,192.7 2031.5,194.3 2033.0,194.3 2034.5,196.1 2036.0,195.4 2037.5,194.9 2039.0,194.9 2040.5,196.1 2042.0,195.5 2043.5,195.8 2045.0,196.3 2046.5,196.6 2048.0,196.8 2049.5,197.0 2051.0,197.9 2052.5,198.3 2054.0,196.5 2055.5,199.2 2057.0,197.9 2058.5,198.8 2060.0,197.8 2061.5,198.6 2063.0,198.7 2064.5,198.9 2066.0,199.5 2067.5,199.6 2069.0,198.8" fill="none" stroke="#F14040" stroke-width="4.6" stroke-linejoin="round" />
<polyline points="1358.0,418.5 1359.5,417.1 1361.0,415.0 1362.5,412.4 1364.0,410.5 1365.5,408.6 1367.0,406.0 1368.5,404.0 1370.0,403.7 1371.5,400.6 1373.0,398.9 1374.5,396.5 1376.0,395.8 1377.5,394.1 1379.0,391.0 1380.5,389.6 1382.0,386.9 1383.5,386.5 1385.0,384.1 1386.5,381.2 1388.0,380.5 1389.5,378.1 1391.0,376.3 1392.5,374.4 1394.0,371.9 1395.5,370.2 1397.0,369.0 1398.5,366.8 1400.0,364.4 1401.5,364.4 1403.0,361.2 1404.5,359.2 1406.0,357.3 1407.5,356.4 1409.0,354.8 1410.5,352.6 1412.0,351.2 1413.5,348.0 1415.0,346.9 1416.5,345.1 1418.0,343.6 1419.5,342.2 1421.0,338.9 1422.5,340.3 1424.0,336.2 1425.5,335.2 1427.0,333.8 1428.5,332.2 1430.0,330.1 1431.5,326.5 1433.0,326.0 1434.5,325.4 1436.0,322.7 1437.5,321.0 1439.0,318.6 1440.5,319.1 1442.0,317.1 1443.5,314.6 1445.0,313.5 1446.5,311.9 1448.0,309.7 1449.5,308.6 1451.0,307.3 1452.5,306.0 1454.0,304.8 1455.5,302.5 1457.0,300.7 1458.5,299.7 1460.0,297.5 1461.5,295.6 1463.0,295.6 1464.5,293.2 1466.0,292.0 1467.5,290.8 1469.0,288.3 1470.5,287.8 1472.0,286.3 1473.5,284.5 1475.0,283.3 1476.5,281.2 1478.0,278.9 1479.5,278.7 1481.0,276.9 1482.5,276.5 1484.0,274.8 1485.5,272.9 1487.0,271.9 1488.5,271.3 1490.0,269.8 1491.5,268.0 1493.0,266.7 1494.5,265.0 1496.0,263.7 1497.5,262.8 1499.0,261.1 1500.5,260.1 1502.0,257.9 1503.5,256.3 1505.0,255.1 1506.5,254.6 1508.0,254.4 1509.5,253.0 1511.0,250.5 1512.5,249.0 1514.0,249.2 1515.5,247.8 1517.0,245.5 1518.5,245.8 1520.0,244.1 1521.5,243.6 1523.0,241.9 1524.5,241.0 1526.0,239.6 1527.5,237.7 1529.0,237.0 1530.5,235.7 1532.0,235.5 1533.5,233.3 1535.0,231.9 1536.5,232.2 1538.0,231.4 1539.5,230.6 1541.0,229.4 1542.5,226.8 1544.0,226.3 1545.5,225.4 1547.0,224.7 1548.5,222.5 1550.0,222.8 1551.5,222.1 1553.0,220.4 1554.5,220.1 1556.0,219.8 1557.5,218.3 1559.0,218.0 1560.5,217.1 1562.0,215.9 1563.5,215.0 1565.0,213.7 1566.5,213.9 1568.0,212.0 1569.5,211.1 1571.0,211.1 1572.5,209.5 1574.0,209.4 1575.5,209.0 1577.0,207.7 1578.5,207.0 1580.0,206.7 1581.5,205.9 1583.0,203.9 1584.5,203.3 1586.0,204.2 1587.5,203.0 1589.0,200.8 1590.5,200.6 1592.0,200.8 1593.5,199.6 1595.0,199.8 1596.5,199.0 1598.0,198.6 1599.5,197.0 1601.0,197.5 1602.5,197.8 1604.0,195.5 1605.5,196.3 1607.0,195.5 1608.5,194.8 1610.0,193.8 1611.5,192.7 1613.0,192.3 1614.5,192.8 1616.0,192.5 1617.5,192.1 1619.0,191.5 1620.5,191.0 1622.0,189.8 1623.5,188.9 1625.0,189.3 1626.5,189.0 1628.0,188.4 1629.5,187.0 1631.0,187.2 1632.5,186.2 1634.0,186.8 1635.5,185.7 1637.0,185.9 1638.5,185.8 1640.0,185.3 1641.5,185.7 1643.0,183.9 1644.5,182.9 1646.0,184.5 1647.5,184.4 1649.0,184.1 1650.5,183.1 1652.0,183.0 1653.5,182.4 1655.0,181.3 1656.5,181.4 1658.0,181.8 1659.5,180.9 1661.0,182.1 1662.5,179.8 1664.0,180.2 1665.5,180.9 1667.0,179.6 1668.5,179.0 1670.0,178.7 1671.5,178.8 1673.0,179.9 1674.5,179.0 1676.0,178.9 1677.5,178.0 1679.0,178.6 1680.5,178.0 1682.0,177.2 1683.5,177.3 1685.0,177.4 1686.5,177.8 1688.0,176.9 1689.5,177.1 1691.0,177.8 1692.5,175.9 1694.0,175.5 1695.5,176.6 1697.0,176.1 1698.5,175.6 1700.0,175.7 1701.5,175.1 1703.0,175.5 1704.5,174.8 1706.0,175.3 1707.5,174.0 1709.0,174.0 1710.5,174.4 1712.0,173.9 1713.5,174.5 1715.0,173.9 1716.5,173.4 1718.0,173.7 1719.5,173.1 1721.0,172.4 1722.5,172.5 1724.0,172.5 1725.5,172.6 1727.0,172.7 1728.5,173.1 1730.0,172.7 1731.5,173.3 1733.0,172.9 1734.5,171.8 1736.0,172.8 1737.5,172.4 1739.0,171.3 1740.5,171.6 1742.0,171.9 1743.5,171.2 1745.0,171.6 1746.5,171.1 1748.0,171.1 1749.5,170.4 1751.0,170.7 1752.5,170.1 1754.0,170.6 1755.5,169.0 1757.0,170.1 1758.5,170.5 1760.0,170.0 1761.5,169.5 1763.0,169.7 1764.5,168.8 1766.0,168.7 1767.5,168.8 1769.0,168.9 1770.5,169.4 1772.0,168.2 1773.5,169.2 1775.0,167.6 1776.5,167.9 1778.0,168.3 1779.5,168.9 1781.0,167.7 1782.5,166.7 1784.0,168.2 1785.5,167.8 1787.0,167.1 1788.5,167.0 1790.0,167.2 1791.5,167.6 1793.0,167.8 1794.5,166.5 1796.0,168.7 1797.5,167.2 1799.0,166.9 1800.5,167.5 1802.0,167.1 1803.5,168.4 1805.0,167.6 1806.5,166.6 1808.0,166.6 1809.5,166.5 1811.0,166.5 1812.5,167.1 1814.0,166.2 1815.5,167.6 1817.0,166.5 1818.5,166.5 1820.0,167.1 1821.5,165.3 1823.0,165.9 1824.5,166.8 1826.0,166.5 1827.5,166.4 1829.0,166.7 1830.5,166.1 1832.0,166.3 1833.5,165.6 1835.0,165.3 1836.5,167.2 1838.0,165.9 1839.5,166.1 1841.0,167.4 1842.5,167.2 1844.0,166.3 1845.5,166.3 1847.0,166.7 1848.5,166.2 1850.0,167.1 1851.5,166.9 1853.0,167.0 1854.5,167.4 1856.0,167.5 1857.5,168.2 1859.0,168.1 1860.5,166.2 1862.0,167.9 1863.5,166.7 1865.0,166.6 1866.5,168.0 1868.0,167.3 1869.5,167.6 1871.0,168.5 1872.5,167.6 1874.0,167.5 1875.5,168.4 1877.0,169.0 1878.5,168.7 1880.0,167.6 1881.5,168.3 1883.0,168.7 1884.5,170.1 1886.0,169.6 1887.5,169.7 1889.0,170.0 1890.5,169.3 1892.0,169.9 1893.5,170.0 1895.0,169.3 1896.5,170.0 1898.0,170.5 1899.5,169.7 1901.0,171.0 1902.5,171.1 1904.0,171.4 1905.5,170.5 1907.0,171.2 1908.5,172.2 1910.0,172.0 1911.5,171.2 1913.0,172.0 1914.5,172.9 1916.0,172.2 1917.5,172.6 1919.0,174.1 1920.5,172.7 1922.0,172.9 1923.5,172.6 1925.0,173.0 1926.5,174.4 1928.0,173.7 1929.5,173.2 1931.0,173.6 1932.5,174.4 1934.0,175.0 1935.5,174.3 1937.0,175.4 1938.5,174.9 1940.0,175.6 1941.5,175.9 1943.0,176.2 1944.5,175.8 1946.0,176.2 1947.5,176.8 1949.0,176.0 1950.5,177.1 1952.0,177.5 1953.5,178.0 1955.0,177.6 1956.5,177.8 1958.0,178.2 1959.5,177.9 1961.0,178.4 1962.5,179.1 1964.0,179.2 1965.5,178.7 1967.0,179.3 1968.5,178.5 1970.0,180.5 1971.5,179.9 1973.0,180.6 1974.5,180.1 1976.0,180.9 1977.5,181.5 1979.0,182.1 1980.5,180.9 1982.0,182.5 1983.5,182.1 1985.0,182.0 1986.5,183.0 1988.0,182.8 1989.5,183.1 1991.0,183.1 1992.5,183.9 1994.0,184.1 1995.5,184.2 1997.0,184.0 1998.5,184.5 2000.0,185.3 2001.5,186.1 2003.0,185.6 2004.5,186.7 2006.0,186.1 2007.5,185.7 2009.0,187.0 2010.5,186.3 2012.0,187.4 2013.5,188.1 2015.0,187.5 2016.5,187.9 2018.0,189.7 2019.5,188.6 2021.0,188.9 2022.5,189.5 2024.0,189.2 2025.5,189.5 2027.0,190.0 2028.5,188.6 2030.0,191.1 2031.5,189.9 2033.0,190.2 2034.5,191.4 2036.0,191.4 2037.5,190.9 2039.0,192.0 2040.5,191.4 2042.0,192.0 2043.5,191.7 2045.0,192.4 2046.5,193.4 2048.0,193.5 2049.5,193.9 2051.0,194.5 2052.5,194.2 2054.0,194.0 2055.5,194.5 2057.0,195.9 2058.5,195.2 2060.0,195.6 2061.5,195.6 2063.0,196.1 2064.5,196.4 2066.0,196.4 2067.5,196.6 2069.0,196.5" fill="none" stroke="#1A6FDF" stroke-width="4.6" stroke-linejoin="round" />
<polyline points="1358.0,442.4 1359.5,441.4 1361.0,439.8 1362.5,438.1 1364.0,435.8 1365.5,433.5 1367.0,432.5 1368.5,430.7 1370.0,427.6 1371.5,427.1 1373.0,425.1 1374.5,423.9 1376.0,420.3 1377.5,418.4 1379.0,417.7 1380.5,414.3 1382.0,413.0 1383.5,410.9 1385.0,409.0 1386.5,406.6 1388.0,405.7 1389.5,404.5 1391.0,402.3 1392.5,400.4 1394.0,398.0 1395.5,397.1 1397.0,394.7 1398.5,393.1 1400.0,389.6 1401.5,388.8 1403.0,386.0 1404.5,385.0 1406.0,383.0 1407.5,380.3 1409.0,379.2 1410.5,377.9 1412.0,375.7 1413.5,373.8 1415.0,371.1 1416.5,369.4 1418.0,367.3 1419.5,366.2 1421.0,365.0 1422.5,362.7 1424.0,360.6 1425.5,358.1 1427.0,357.3 1428.5,355.1 1430.0,352.3 1431.5,350.7 1433.0,349.8 1434.5,347.7 1436.0,347.5 1437.5,344.9 1439.0,342.5 1440.5,341.2 1442.0,340.8 1443.5,337.6 1445.0,337.0 1446.5,335.2 1448.0,334.1 1449.5,332.0 1451.0,329.8 1452.5,328.8 1454.0,326.9 1455.5,325.9 1457.0,323.7 1458.5,323.4 1460.0,320.6 1461.5,319.4 1463.0,317.2 1464.5,316.1 1466.0,314.6 1467.5,313.1 1469.0,312.1 1470.5,309.7 1472.0,308.1 1473.5,307.8 1475.0,305.5 1476.5,303.8 1478.0,303.4 1479.5,301.7 1481.0,298.2 1482.5,298.1 1484.0,297.4 1485.5,296.0 1487.0,293.8 1488.5,293.6 1490.0,290.8 1491.5,289.7 1493.0,288.5 1494.5,287.0 1496.0,286.1 1497.5,284.9 1499.0,282.8 1500.5,282.3 1502.0,279.7 1503.5,278.6 1505.0,278.4 1506.5,276.1 1508.0,275.3 1509.5,273.1 1511.0,271.8 1512.5,270.6 1514.0,269.4 1515.5,267.8 1517.0,266.7 1518.5,265.7 1520.0,264.7 1521.5,262.8 1523.0,261.8 1524.5,260.7 1526.0,258.2 1527.5,256.6 1529.0,257.2 1530.5,255.8 1532.0,253.8 1533.5,252.7 1535.0,250.7 1536.5,249.2 1538.0,249.0 1539.5,246.7 1541.0,246.9 1542.5,244.8 1544.0,244.2 1545.5,244.0 1547.0,242.8 1548.5,240.3 1550.0,240.0 1551.5,237.6 1553.0,236.7 1554.5,236.2 1556.0,235.7 1557.5,233.5 1559.0,233.1 1560.5,231.8 1562.0,229.9 1563.5,229.6 1565.0,229.5 1566.5,227.6 1568.0,226.9 1569.5,226.2 1571.0,224.3 1572.5,224.5 1574.0,223.8 1575.5,222.9 1577.0,221.9 1578.5,219.9 1580.0,219.0 1581.5,218.0 1583.0,217.1 1584.5,216.4 1586.0,216.7 1587.5,216.2 1589.0,214.2 1590.5,214.3 1592.0,212.3 1593.5,212.2 1595.0,211.1 1596.5,210.1 1598.0,210.4 1599.5,209.8 1601.0,208.9 1602.5,208.3 1604.0,207.4 1605.5,207.4 1607.0,206.5 1608.5,206.5 1610.0,205.2 1611.5,205.6 1613.0,205.3 1614.5,205.3 1616.0,204.8 1617.5,203.9 1619.0,203.0 1620.5,201.9 1622.0,202.7 1623.5,203.2 1625.0,203.0 1626.5,200.2 1628.0,201.0 1629.5,200.9 1631.0,200.2 1632.5,200.6 1634.0,200.2 1635.5,199.5 1637.0,199.5 1638.5,198.2 1640.0,198.2 1641.5,197.9 1643.0,198.7 1644.5,196.8 1646.0,197.3 1647.5,197.6 1649.0,196.7 1650.5,196.9 1652.0,195.7 1653.5,196.0 1655.0,196.0 1656.5,196.4 1658.0,195.2 1659.5,195.3 1661.0,194.1 1662.5,193.9 1664.0,194.4 1665.5,193.6 1667.0,193.8 1668.5,193.0 1670.0,193.6 1671.5,193.5 1673.0,191.3 1674.5,192.6 1676.0,191.5 1677.5,191.3 1679.0,190.6 1680.5,190.9 1682.0,189.5 1683.5,189.5 1685.0,189.3 1686.5,189.7 1688.0,189.8 1689.5,189.5 1691.0,189.0 1692.5,188.2 1694.0,187.3 1695.5,188.4 1697.0,188.0 1698.5,188.0 1700.0,188.4 1701.5,187.2 1703.0,187.0 1704.5,185.6 1706.0,187.1 1707.5,186.6 1709.0,186.0 1710.5,186.5 1712.0,185.4 1713.5,185.6 1715.0,186.9 1716.5,186.0 1718.0,186.0 1719.5,185.7 1721.0,185.5 1722.5,185.1 1724.0,186.2 1725.5,184.6 1727.0,185.0 1728.5,184.2 1730.0,184.0 1731.5,182.6 1733.0,182.8 1734.5,184.8 1736.0,184.6 1737.5,183.4 1739.0,183.5 1740.5,183.8 1742.0,182.7 1743.5,184.2 1745.0,182.4 1746.5,182.5 1748.0,181.2 1749.5,183.7 1751.0,182.7 1752.5,183.6 1754.0,181.9 1755.5,182.7 1757.0,182.4 1758.5,182.4 1760.0,183.5 1761.5,183.5 1763.0,182.9 1764.5,181.8 1766.0,182.5 1767.5,182.8 1769.0,182.2 1770.5,182.2 1772.0,182.1 1773.5,181.2 1775.0,181.9 1776.5,182.7 1778.0,181.1 1779.5,181.7 1781.0,182.2 1782.5,180.8 1784.0,181.6 1785.5,180.6 1787.0,181.3 1788.5,180.8 1790.0,181.1 1791.5,181.4 1793.0,181.5 1794.5,181.6 1796.0,180.3 1797.5,182.7 1799.0,181.6 1800.5,181.2 1802.0,181.5 1803.5,182.1 1805.0,181.3 1806.5,181.8 1808.0,181.8 1809.5,182.4 1811.0,181.7 1812.5,182.5 1814.0,182.5 1815.5,182.3 1817.0,183.2 1818.5,182.6 1820.0,181.9 1821.5,182.9 1823.0,182.9 1824.5,182.9 1826.0,183.2 1827.5,184.6 1829.0,183.4 1830.5,183.7 1832.0,183.4 1833.5,184.4 1835.0,183.8 1836.5,183.5 1838.0,183.3 1839.5,184.5 1841.0,184.8 1842.5,183.6 1844.0,184.3 1845.5,185.2 1847.0,185.6 1848.5,184.4 1850.0,185.1 1851.5,186.1 1853.0,185.4 1854.5,185.7 1856.0,185.8 1857.5,185.6 1859.0,186.6 1860.5,186.9 1862.0,186.1 1863.5,187.3 1865.0,188.1 1866.5,187.8 1868.0,188.4 1869.5,187.8 1871.0,189.2 1872.5,188.1 1874.0,190.0 1875.5,188.8 1877.0,188.9 1878.5,189.1 1880.0,189.7 1881.5,189.9 1883.0,190.0 1884.5,190.5 1886.0,191.4 1887.5,191.8 1889.0,191.4 1890.5,192.7 1892.0,191.6 1893.5,191.9 1895.0,192.2 1896.5,193.5 1898.0,192.5 1899.5,193.0 1901.0,194.9 1902.5,195.5 1904.0,195.6 1905.5,194.2 1907.0,195.5 1908.5,196.3 1910.0,196.3 1911.5,195.6 1913.0,196.7 1914.5,196.3 1916.0,196.9 1917.5,199.3 1919.0,198.8 1920.5,197.9 1922.0,198.3 1923.5,199.9 1925.0,199.6 1926.5,200.7 1928.0,200.4 1929.5,201.1 1931.0,201.8 1932.5,201.4 1934.0,201.3 1935.5,202.2 1937.0,202.9 1938.5,203.6 1940.0,204.2 1941.5,204.6 1943.0,205.4 1944.5,205.0 1946.0,206.9 1947.5,207.7 1949.0,207.2 1950.5,207.5 1952.0,208.6 1953.5,208.8 1955.0,209.0 1956.5,209.2 1958.0,209.4 1959.5,209.6 1961.0,211.2 1962.5,212.0 1964.0,211.2 1965.5,212.3 1967.0,213.0 1968.5,213.1 1970.0,213.4 1971.5,214.2 1973.0,213.8 1974.5,215.4 1976.0,215.8 1977.5,217.8 1979.0,217.6 1980.5,217.4 1982.0,218.1 1983.5,219.7 1985.0,220.2 1986.5,219.9 1988.0,220.2 1989.5,220.0 1991.0,221.2 1992.5,221.8 1994.0,222.0 1995.5,224.1 1997.0,222.4 1998.5,224.0 2000.0,224.9 2001.5,225.5 2003.0,226.8 2004.5,225.4 2006.0,226.4 2007.5,227.4 2009.0,228.0 2010.5,228.2 2012.0,228.5 2013.5,230.2 2015.0,229.4 2016.5,230.2 2018.0,232.0 2019.5,232.7 2021.0,232.7 2022.5,232.1 2024.0,232.7 2025.5,233.1 2027.0,233.5 2028.5,234.4 2030.0,235.9 2031.5,235.8 2033.0,235.7 2034.5,236.2 2036.0,236.4 2037.5,238.3 2039.0,236.9 2040.5,238.7 2042.0,238.2 2043.5,238.8 2045.0,239.0 2046.5,240.9 2048.0,240.8 2049.5,242.9 2051.0,241.0 2052.5,241.4 2054.0,242.8 2055.5,243.2 2057.0,243.1 2058.5,242.5 2060.0,244.9 2061.5,244.8 2063.0,245.1 2064.5,244.8 2066.0,245.9 2067.5,245.5 2069.0,246.2" fill="none" stroke="#37AD6B" stroke-width="4.6" stroke-linejoin="round" />
<polyline points="1358.0,461.5 1359.5,460.6 1361.0,457.8 1362.5,456.0 1364.0,455.1 1365.5,452.8 1367.0,450.8 1368.5,448.9 1370.0,447.8 1371.5,445.0 1373.0,443.9 1374.5,443.0 1376.0,440.2 1377.5,437.6 1379.0,435.5 1380.5,434.5 1382.0,431.8 1383.5,429.8 1385.0,428.4 1386.5,426.4 1388.0,425.8 1389.5,422.5 1391.0,422.5 1392.5,419.3 1394.0,418.0 1395.5,416.5 1397.0,414.4 1398.5,412.9 1400.0,410.1 1401.5,407.5 1403.0,406.9 1404.5,404.3 1406.0,403.1 1407.5,402.3 1409.0,399.8 1410.5,397.8 1412.0,395.8 1413.5,394.5 1415.0,392.9 1416.5,390.3 1418.0,389.7 1419.5,387.2 1421.0,386.3 1422.5,384.2 1424.0,383.4 1425.5,381.7 1427.0,379.6 1428.5,377.9 1430.0,376.6 1431.5,375.6 1433.0,373.8 1434.5,371.7 1436.0,370.2 1437.5,369.4 1439.0,366.0 1440.5,365.7 1442.0,363.3 1443.5,363.2 1445.0,360.5 1446.5,359.2 1448.0,357.1 1449.5,356.2 1451.0,355.1 1452.5,354.0 1454.0,350.7 1455.5,349.6 1457.0,350.6 1458.5,347.2 1460.0,344.9 1461.5,343.6 1463.0,340.0 1464.5,340.8 1466.0,338.2 1467.5,335.5 1469.0,335.3 1470.5,332.4 1472.0,330.4 1473.5,329.5 1475.0,327.7 1476.5,325.4 1478.0,323.9 1479.5,321.4 1481.0,319.6 1482.5,319.4 1484.0,317.9 1485.5,315.8 1487.0,314.2 1488.5,312.2 1490.0,310.8 1491.5,308.8 1493.0,309.0 1494.5,306.1 1496.0,305.3 1497.5,303.6 1499.0,301.4 1500.5,302.0 1502.0,299.2 1503.5,297.6 1505.0,296.8 1506.5,294.9 1508.0,294.1 1509.5,292.1 1511.0,291.7 1512.5,290.0 1514.0,287.8 1515.5,287.9 1517.0,286.0 1518.5,283.8 1520.0,283.3 1521.5,281.9 1523.0,281.3 1524.5,278.2 1526.0,277.8 1527.5,275.7 1529.0,274.7 1530.5,272.7 1532.0,271.3 1533.5,270.1 1535.0,267.6 1536.5,265.6 1538.0,265.4 1539.5,263.6 1541.0,262.5 1542.5,261.4 1544.0,259.4 1545.5,258.9 1547.0,256.7 1548.5,255.4 1550.0,254.5 1551.5,253.0 1553.0,251.3 1554.5,250.2 1556.0,248.4 1557.5,247.2 1559.0,246.5 1560.5,245.8 1562.0,243.9 1563.5,243.6 1565.0,243.2 1566.5,242.3 1568.0,240.1 1569.5,239.7 1571.0,238.6 1572.5,237.8 1574.0,236.9 1575.5,235.9 1577.0,235.3 1578.5,234.1 1580.0,233.1 1581.5,232.6 1583.0,232.1 1584.5,231.8 1586.0,230.6 1587.5,230.2 1589.0,230.0 1590.5,228.0 1592.0,227.8 1593.5,227.7 1595.0,226.8 1596.5,225.6 1598.0,226.3 1599.5,225.1 1601.0,224.1 1602.5,225.3 1604.0,222.9 1605.5,223.2 1607.0,222.3 1608.5,222.4 1610.0,222.2 1611.5,220.9 1613.0,220.9 1614.5,220.4 1616.0,219.5 1617.5,220.4 1619.0,219.4 1620.5,218.7 1622.0,218.0 1623.5,217.8 1625.0,217.7 1626.5,216.9 1628.0,217.6 1629.5,214.9 1631.0,214.7 1632.5,215.5 1634.0,214.1 1635.5,214.8 1637.0,214.1 1638.5,214.4 1640.0,214.0 1641.5,214.1 1643.0,213.5 1644.5,213.4 1646.0,212.6 1647.5,212.5 1649.0,211.8 1650.5,210.8 1652.0,210.1 1653.5,209.8 1655.0,210.4 1656.5,208.4 1658.0,209.6 1659.5,208.7 1661.0,209.3 1662.5,208.6 1664.0,207.7 1665.5,207.9 1667.0,206.2 1668.5,207.4 1670.0,207.2 1671.5,205.5 1673.0,206.9 1674.5,206.0 1676.0,205.9 1677.5,204.6 1679.0,205.6 1680.5,205.3 1682.0,204.7 1683.5,203.8 1685.0,204.6 1686.5,204.6 1688.0,203.9 1689.5,204.0 1691.0,202.8 1692.5,203.0 1694.0,202.9 1695.5,202.5 1697.0,203.9 1698.5,202.2 1700.0,201.4 1701.5,202.0 1703.0,200.7 1704.5,201.3 1706.0,201.4 1707.5,200.4 1709.0,200.3 1710.5,199.7 1712.0,200.2 1713.5,199.5 1715.0,200.8 1716.5,200.0 1718.0,199.3 1719.5,198.4 1721.0,200.3 1722.5,199.7 1724.0,199.1 1725.5,198.8 1727.0,198.6 1728.5,198.1 1730.0,199.4 1731.5,198.2 1733.0,197.1 1734.5,197.5 1736.0,196.2 1737.5,198.0 1739.0,198.0 1740.5,198.5 1742.0,198.6 1743.5,196.8 1745.0,197.5 1746.5,197.7 1748.0,197.5 1749.5,196.7 1751.0,197.4 1752.5,197.1 1754.0,197.6 1755.5,196.7 1757.0,196.5 1758.5,196.3 1760.0,196.4 1761.5,196.1 1763.0,196.4 1764.5,196.8 1766.0,196.8 1767.5,197.3 1769.0,197.2 1770.5,196.9 1772.0,195.8 1773.5,196.9 1775.0,197.3 1776.5,195.8 1778.0,196.0 1779.5,196.1 1781.0,196.1 1782.5,196.6 1784.0,196.2 1785.5,197.1 1787.0,196.2 1788.5,196.9 1790.0,196.8 1791.5,196.6 1793.0,197.8 1794.5,197.3 1796.0,197.7 1797.5,197.3 1799.0,198.1 1800.5,198.1 1802.0,197.8 1803.5,196.9 1805.0,198.6 1806.5,198.7 1808.0,198.5 1809.5,198.7 1811.0,198.8 1812.5,199.0 1814.0,198.4 1815.5,199.2 1817.0,199.6 1818.5,199.2 1820.0,199.2 1821.5,201.1 1823.0,200.6 1824.5,200.2 1826.0,200.3 1827.5,199.3 1829.0,200.2 1830.5,201.2 1832.0,202.3 1833.5,200.6 1835.0,201.6 1836.5,203.5 1838.0,203.0 1839.5,203.1 1841.0,203.9 1842.5,203.4 1844.0,203.6 1845.5,204.4 1847.0,204.8 1848.5,204.0 1850.0,205.9 1851.5,204.2 1853.0,205.2 1854.5,207.8 1856.0,206.0 1857.5,207.0 1859.0,206.4 1860.5,207.2 1862.0,207.3 1863.5,207.8 1865.0,208.9 1866.5,209.9 1868.0,209.8 1869.5,210.6 1871.0,209.7 1872.5,211.3 1874.0,211.2 1875.5,212.1 1877.0,211.4 1878.5,211.9 1880.0,213.3 1881.5,213.3 1883.0,213.4 1884.5,213.4 1886.0,214.2 1887.5,215.0 1889.0,215.6 1890.5,215.3 1892.0,215.9 1893.5,216.8 1895.0,216.4 1896.5,218.1 1898.0,218.0 1899.5,218.4 1901.0,217.5 1902.5,218.5 1904.0,219.3 1905.5,220.1 1907.0,220.3 1908.5,221.7 1910.0,222.1 1911.5,222.4 1913.0,221.8 1914.5,224.4 1916.0,223.9 1917.5,225.0 1919.0,224.8 1920.5,225.7 1922.0,226.7 1923.5,226.9 1925.0,227.9 1926.5,227.8 1928.0,229.6 1929.5,227.9 1931.0,229.2 1932.5,230.7 1934.0,230.6 1935.5,231.0 1937.0,230.8 1938.5,233.2 1940.0,231.9 1941.5,233.9 1943.0,234.3 1944.5,235.3 1946.0,236.2 1947.5,235.5 1949.0,236.1 1950.5,236.9 1952.0,236.7 1953.5,238.8 1955.0,238.7 1956.5,239.6 1958.0,239.5 1959.5,240.8 1961.0,241.0 1962.5,241.9 1964.0,241.9 1965.5,243.8 1967.0,243.4 1968.5,242.9 1970.0,245.5 1971.5,245.5 1973.0,245.8 1974.5,248.4 1976.0,247.5 1977.5,247.4 1979.0,248.5 1980.5,249.7 1982.0,250.0 1983.5,251.5 1985.0,252.0 1986.5,251.5 1988.0,252.7 1989.5,253.6 1991.0,253.7 1992.5,254.3 1994.0,255.7 1995.5,256.1 1997.0,255.6 1998.5,256.8 2000.0,257.5 2001.5,258.3 2003.0,258.6 2004.5,260.5 2006.0,259.7 2007.5,260.3 2009.0,261.7 2010.5,260.9 2012.0,262.3 2013.5,263.9 2015.0,263.4 2016.5,264.3 2018.0,266.1 2019.5,266.4 2021.0,266.8 2022.5,267.5 2024.0,267.6 2025.5,268.8 2027.0,269.2 2028.5,271.4 2030.0,270.9 2031.5,271.0 2033.0,271.8 2034.5,272.5 2036.0,272.3 2037.5,273.2 2039.0,275.3 2040.5,274.1 2042.0,275.3 2043.5,276.9 2045.0,277.8 2046.5,276.9 2048.0,279.0 2049.5,278.5 2051.0,280.4 2052.5,280.3 2054.0,280.4 2055.5,281.7 2057.0,282.2 2058.5,282.0 2060.0,284.4 2061.5,283.5 2063.0,285.0 2064.5,284.6 2066.0,284.4 2067.5,285.4 2069.0,286.6" fill="none" stroke="#B177DE" stroke-width="4.6" stroke-linejoin="round" />
<polyline points="1358.0,481.9 1359.5,481.1 1361.0,478.7 1362.5,477.0 1364.0,474.9 1365.5,474.2 1367.0,472.9 1368.5,469.9 1370.0,470.4 1371.5,468.8 1373.0,467.9 1374.5,464.5 1376.0,463.4 1377.5,461.8 1379.0,459.4 1380.5,458.1 1382.0,456.4 1383.5,455.7 1385.0,454.0 1386.5,452.9 1388.0,450.2 1389.5,447.9 1391.0,447.3 1392.5,445.6 1394.0,444.1 1395.5,442.7 1397.0,439.9 1398.5,439.0 1400.0,436.3 1401.5,435.2 1403.0,433.8 1404.5,431.6 1406.0,430.1 1407.5,427.4 1409.0,426.1 1410.5,424.9 1412.0,422.3 1413.5,420.8 1415.0,421.1 1416.5,418.0 1418.0,415.6 1419.5,413.8 1421.0,413.5 1422.5,409.3 1424.0,409.0 1425.5,407.9 1427.0,405.5 1428.5,404.4 1430.0,401.8 1431.5,400.7 1433.0,399.0 1434.5,397.3 1436.0,395.7 1437.5,394.0 1439.0,393.0 1440.5,390.5 1442.0,388.6 1443.5,387.2 1445.0,385.5 1446.5,383.1 1448.0,381.3 1449.5,380.0 1451.0,379.4 1452.5,377.2 1454.0,375.7 1455.5,376.1 1457.0,373.5 1458.5,371.1 1460.0,369.3 1461.5,368.9 1463.0,366.0 1464.5,365.7 1466.0,363.8 1467.5,362.7 1469.0,359.9 1470.5,359.3 1472.0,356.2 1473.5,355.6 1475.0,354.8 1476.5,353.0 1478.0,350.0 1479.5,350.0 1481.0,348.3 1482.5,346.4 1484.0,344.5 1485.5,343.2 1487.0,341.4 1488.5,340.8 1490.0,338.9 1491.5,337.7 1493.0,335.9 1494.5,333.1 1496.0,332.3 1497.5,332.0 1499.0,328.4 1500.5,327.7 1502.0,325.4 1503.5,323.8 1505.0,322.8 1506.5,321.7 1508.0,320.0 1509.5,318.3 1511.0,317.0 1512.5,313.9 1514.0,313.8 1515.5,312.0 1517.0,310.1 1518.5,308.6 1520.0,306.6 1521.5,306.3 1523.0,303.6 1524.5,301.7 1526.0,301.0 1527.5,299.2 1529.0,298.0 1530.5,297.5 1532.0,295.1 1533.5,293.8 1535.0,293.7 1536.5,290.1 1538.0,289.8 1539.5,288.9 1541.0,287.8 1542.5,286.9 1544.0,283.8 1545.5,283.3 1547.0,281.6 1548.5,280.1 1550.0,278.7 1551.5,277.1 1553.0,277.0 1554.5,276.1 1556.0,273.8 1557.5,273.8 1559.0,271.9 1560.5,270.6 1562.0,268.6 1563.5,269.8 1565.0,268.6 1566.5,267.0 1568.0,266.0 1569.5,264.5 1571.0,264.7 1572.5,263.5 1574.0,263.0 1575.5,262.0 1577.0,260.2 1578.5,259.3 1580.0,259.7 1581.5,257.7 1583.0,258.1 1584.5,257.8 1586.0,255.7 1587.5,256.2 1589.0,255.2 1590.5,254.8 1592.0,253.4 1593.5,253.2 1595.0,252.8 1596.5,253.1 1598.0,251.8 1599.5,251.1 1601.0,249.4 1602.5,249.8 1604.0,248.7 1605.5,248.5 1607.0,248.2 1608.5,248.1 1610.0,247.3 1611.5,246.6 1613.0,245.9 1614.5,246.3 1616.0,244.4 1617.5,244.5 1619.0,244.8 1620.5,243.4 1622.0,243.5 1623.5,243.1 1625.0,243.3 1626.5,242.3 1628.0,240.2 1629.5,240.8 1631.0,240.5 1632.5,240.4 1634.0,239.7 1635.5,240.2 1637.0,239.3 1638.5,237.5 1640.0,237.4 1641.5,236.1 1643.0,238.0 1644.5,236.5 1646.0,236.1 1647.5,234.8 1649.0,235.1 1650.5,235.3 1652.0,234.4 1653.5,234.0 1655.0,233.5 1656.5,234.8 1658.0,232.9 1659.5,232.0 1661.0,232.2 1662.5,232.0 1664.0,231.8 1665.5,231.4 1667.0,230.5 1668.5,230.8 1670.0,230.8 1671.5,229.4 1673.0,231.2 1674.5,230.7 1676.0,228.3 1677.5,228.9 1679.0,229.5 1680.5,229.4 1682.0,229.4 1683.5,226.9 1685.0,227.1 1686.5,227.2 1688.0,227.6 1689.5,226.4 1691.0,227.1 1692.5,226.9 1694.0,226.8 1695.5,225.3 1697.0,226.0 1698.5,225.8 1700.0,225.3 1701.5,226.1 1703.0,224.9 1704.5,225.8 1706.0,224.4 1707.5,225.6 1709.0,225.4 1710.5,223.7 1712.0,224.3 1713.5,224.1 1715.0,223.1 1716.5,224.1 1718.0,223.8 1719.5,222.8 1721.0,223.2 1722.5,223.6 1724.0,222.8 1725.5,222.4 1727.0,223.7 1728.5,222.0 1730.0,222.7 1731.5,223.1 1733.0,222.8 1734.5,221.1 1736.0,221.9 1737.5,221.9 1739.0,221.8 1740.5,222.3 1742.0,222.2 1743.5,221.8 1745.0,221.9 1746.5,222.3 1748.0,222.4 1749.5,220.4 1751.0,222.9 1752.5,221.2 1754.0,222.0 1755.5,220.5 1757.0,221.1 1758.5,220.7 1760.0,222.1 1761.5,222.0 1763.0,221.4 1764.5,221.3 1766.0,221.7 1767.5,220.9 1769.0,221.1 1770.5,221.1 1772.0,222.0 1773.5,221.6 1775.0,220.9 1776.5,221.9 1778.0,222.0 1779.5,222.6 1781.0,221.5 1782.5,222.2 1784.0,223.3 1785.5,221.9 1787.0,221.9 1788.5,222.5 1790.0,222.0 1791.5,222.4 1793.0,222.2 1794.5,222.1 1796.0,223.3 1797.5,222.6 1799.0,222.3 1800.5,222.9 1802.0,223.1 1803.5,223.5 1805.0,224.1 1806.5,224.7 1808.0,223.0 1809.5,223.8 1811.0,223.0 1812.5,224.4 1814.0,224.7 1815.5,224.2 1817.0,224.2 1818.5,224.3 1820.0,224.2 1821.5,225.7 1823.0,226.7 1824.5,225.0 1826.0,226.9 1827.5,226.1 1829.0,225.5 1830.5,226.9 1832.0,227.3 1833.5,227.3 1835.0,227.1 1836.5,228.5 1838.0,227.6 1839.5,228.4 1841.0,228.6 1842.5,228.0 1844.0,227.6 1845.5,228.0 1847.0,229.1 1848.5,229.8 1850.0,228.8 1851.5,229.7 1853.0,231.4 1854.5,229.7 1856.0,231.4 1857.5,231.6 1859.0,232.2 1860.5,231.2 1862.0,232.6 1863.5,231.9 1865.0,233.9 1866.5,232.9 1868.0,234.0 1869.5,233.7 1871.0,234.6 1872.5,234.0 1874.0,235.5 1875.5,236.1 1877.0,236.2 1878.5,237.6 1880.0,237.2 1881.5,237.9 1883.0,238.2 1884.5,239.5 1886.0,238.4 1887.5,239.1 1889.0,239.6 1890.5,240.6 1892.0,240.9 1893.5,241.8 1895.0,242.0 1896.5,242.0 1898.0,242.9 1899.5,243.7 1901.0,242.6 1902.5,245.4 1904.0,244.8 1905.5,245.6 1907.0,246.6 1908.5,246.9 1910.0,246.8 1911.5,248.2 1913.0,249.8 1914.5,250.3 1916.0,251.1 1917.5,250.7 1919.0,251.6 1920.5,253.1 1922.0,254.1 1923.5,253.9 1925.0,254.1 1926.5,254.2 1928.0,257.1 1929.5,256.0 1931.0,258.0 1932.5,259.1 1934.0,261.3 1935.5,260.3 1937.0,260.9 1938.5,262.1 1940.0,262.9 1941.5,264.2 1943.0,264.7 1944.5,264.6 1946.0,264.6 1947.5,266.9 1949.0,267.1 1950.5,269.2 1952.0,268.3 1953.5,270.1 1955.0,270.3 1956.5,271.0 1958.0,273.3 1959.5,273.2 1961.0,273.8 1962.5,275.1 1964.0,274.9 1965.5,275.9 1967.0,276.5 1968.5,278.9 1970.0,278.6 1971.5,279.5 1973.0,280.5 1974.5,280.4 1976.0,281.1 1977.5,280.9 1979.0,282.9 1980.5,283.5 1982.0,283.7 1983.5,285.4 1985.0,284.2 1986.5,286.3 1988.0,285.8 1989.5,286.6 1991.0,287.9 1992.5,289.5 1994.0,288.6 1995.5,289.4 1997.0,289.9 1998.5,292.5 2000.0,292.2 2001.5,292.8 2003.0,294.5 2004.5,294.0 2006.0,293.2 2007.5,294.8 2009.0,295.0 2010.5,297.6 2012.0,296.1 2013.5,297.8 2015.0,298.0 2016.5,298.6 2018.0,299.6 2019.5,300.1 2021.0,300.4 2022.5,300.7 2024.0,301.7 2025.5,302.1 2027.0,302.8 2028.5,304.1 2030.0,304.6 2031.5,305.6 2033.0,305.8 2034.5,307.8 2036.0,306.8 2037.5,307.3 2039.0,309.3 2040.5,308.9 2042.0,310.0 2043.5,311.3 2045.0,311.3 2046.5,311.8 2048.0,313.3 2049.5,313.6 2051.0,313.8 2052.5,314.1 2054.0,315.3 2055.5,315.2 2057.0,316.4 2058.5,317.0 2060.0,318.6 2061.5,319.7 2063.0,319.5 2064.5,320.4 2066.0,320.8 2067.5,321.4 2069.0,322.7" fill="none" stroke="#CC9900" stroke-width="4.6" stroke-linejoin="round" />
</g>
<line x1="1360.00" y1="645.50" x2="1370.50" y2="645.50" stroke="#000" stroke-width="5.5" stroke-linecap="butt"/>
<line x1="1360.00" y1="616.92" x2="1366.00" y2="616.92" stroke="#000" stroke-width="5.5" stroke-linecap="butt"/>
<line x1="1360.00" y1="588.34" x2="1370.50" y2="588.34" stroke="#000" stroke-width="5.5" stroke-linecap="butt"/>
<line x1="1360.00" y1="559.76" x2="1366.00" y2="559.76" stroke="#000" stroke-width="5.5" stroke-linecap="butt"/>
<line x1="1360.00" y1="531.18" x2="1370.50" y2="531.18" stroke="#000" stroke-width="5.5" stroke-linecap="butt"/>
<line x1="1360.00" y1="502.60" x2="1366.00" y2="502.60" stroke="#000" stroke-width="5.5" stroke-linecap="butt"/>
<line x1="1360.00" y1="474.02" x2="1370.50" y2="474.02" stroke="#000" stroke-width="5.5" stroke-linecap="butt"/>
<line x1="1360.00" y1="445.44" x2="1366.00" y2="445.44" stroke="#000" stroke-width="5.5" stroke-linecap="butt"/>
<line x1="1360.00" y1="416.86" x2="1370.50" y2="416.86" stroke="#000" stroke-width="5.5" stroke-linecap="butt"/>
<line x1="1360.00" y1="388.28" x2="1366.00" y2="388.28" stroke="#000" stroke-width="5.5" stroke-linecap="butt"/>
<line x1="1360.00" y1="359.70" x2="1370.50" y2="359.70" stroke="#000" stroke-width="5.5" stroke-linecap="butt"/>
<line x1="1360.00" y1="331.12" x2="1366.00" y2="331.12" stroke="#000" stroke-width="5.5" stroke-linecap="butt"/>
<line x1="1360.00" y1="302.54" x2="1370.50" y2="302.54" stroke="#000" stroke-width="5.5" stroke-linecap="butt"/>
<line x1="1360.00" y1="273.96" x2="1366.00" y2="273.96" stroke="#000" stroke-width="5.5" stroke-linecap="butt"/>
<line x1="1360.00" y1="245.38" x2="1370.50" y2="245.38" stroke="#000" stroke-width="5.5" stroke-linecap="butt"/>
<line x1="1360.00" y1="216.80" x2="1366.00" y2="216.80" stroke="#000" stroke-width="5.5" stroke-linecap="butt"/>
<line x1="1360.00" y1="188.22" x2="1370.50" y2="188.22" stroke="#000" stroke-width="5.5" stroke-linecap="butt"/>
<line x1="1360.00" y1="159.64" x2="1366.00" y2="159.64" stroke="#000" stroke-width="5.5" stroke-linecap="butt"/>
<line x1="1360.00" y1="131.06" x2="1370.50" y2="131.06" stroke="#000" stroke-width="5.5" stroke-linecap="butt"/>
<line x1="1360.00" y1="102.48" x2="1366.00" y2="102.48" stroke="#000" stroke-width="5.5" stroke-linecap="butt"/>
<line x1="1360.00" y1="73.90" x2="1370.50" y2="73.90" stroke="#000" stroke-width="5.5" stroke-linecap="butt"/>
<line x1="1360.00" y1="645.50" x2="1360.00" y2="635.50" stroke="#000" stroke-width="5.5" stroke-linecap="butt"/>
<line x1="1448.81" y1="645.50" x2="1448.81" y2="640.00" stroke="#000" stroke-width="5.5" stroke-linecap="butt"/>
<line x1="1537.62" y1="645.50" x2="1537.62" y2="635.50" stroke="#000" stroke-width="5.5" stroke-linecap="butt"/>
<line x1="1626.44" y1="645.50" x2="1626.44" y2="640.00" stroke="#000" stroke-width="5.5" stroke-linecap="butt"/>
<line x1="1715.25" y1="645.50" x2="1715.25" y2="635.50" stroke="#000" stroke-width="5.5" stroke-linecap="butt"/>
<line x1="1804.06" y1="645.50" x2="1804.06" y2="640.00" stroke="#000" stroke-width="5.5" stroke-linecap="butt"/>
<line x1="1892.88" y1="645.50" x2="1892.88" y2="635.50" stroke="#000" stroke-width="5.5" stroke-linecap="butt"/>
<line x1="1981.69" y1="645.50" x2="1981.69" y2="640.00" stroke="#000" stroke-width="5.5" stroke-linecap="butt"/>
<line x1="2070.50" y1="645.50" x2="2070.50" y2="635.50" stroke="#000" stroke-width="5.5" stroke-linecap="butt"/>
<line x1="1357.20" y1="73.90" x2="2073.30" y2="73.90" stroke="#000" stroke-width="5.6" stroke-linecap="butt"/>
<line x1="1357.20" y1="645.50" x2="2073.30" y2="645.50" stroke="#000" stroke-width="5.6" stroke-linecap="butt"/>
<line x1="1360.00" y1="73.90" x2="1360.00" y2="645.50" stroke="#000" stroke-width="5.6" stroke-linecap="butt"/>
<line x1="2070.50" y1="73.90" x2="2070.50" y2="645.50" stroke="#000" stroke-width="5.6" stroke-linecap="butt"/>
<text x="1326.2" y="655.5" font-size="35" text-anchor="start" fill="#000" font-weight="bold" textLength="19.25" lengthAdjust="spacingAndGlyphs" >0</text>
<text x="1307.0" y="598.3" font-size="35" text-anchor="start" fill="#000" font-weight="bold" textLength="38.5" lengthAdjust="spacingAndGlyphs" >10</text>
<text x="1307.0" y="541.2" font-size="35" text-anchor="start" fill="#000" font-weight="bold" textLength="38.5" lengthAdjust="spacingAndGlyphs" >20</text>
<text x="1307.0" y="484.0" font-size="35" text-anchor="start" fill="#000" font-weight="bold" textLength="38.5" lengthAdjust="spacingAndGlyphs" >30</text>
<text x="1307.0" y="426.9" font-size="35" text-anchor="start" fill="#000" font-weight="bold" textLength="38.5" lengthAdjust="spacingAndGlyphs" >40</text>
<text x="1307.0" y="369.7" font-size="35" text-anchor="start" fill="#000" font-weight="bold" textLength="38.5" lengthAdjust="spacingAndGlyphs" >50</text>
<text x="1307.0" y="312.5" font-size="35" text-anchor="start" fill="#000" font-weight="bold" textLength="38.5" lengthAdjust="spacingAndGlyphs" >60</text>
<text x="1307.0" y="255.4" font-size="35" text-anchor="start" fill="#000" font-weight="bold" textLength="38.5" lengthAdjust="spacingAndGlyphs" >70</text>
<text x="1307.0" y="198.2" font-size="35" text-anchor="start" fill="#000" font-weight="bold" textLength="38.5" lengthAdjust="spacingAndGlyphs" >80</text>
<text x="1307.0" y="141.1" font-size="35" text-anchor="start" fill="#000" font-weight="bold" textLength="38.5" lengthAdjust="spacingAndGlyphs" >90</text>
<text x="1287.7" y="83.9" font-size="35" text-anchor="start" fill="#000" font-weight="bold" textLength="57.75" lengthAdjust="spacingAndGlyphs" >100</text>
<text x="1331.1" y="686.5" font-size="35" text-anchor="start" fill="#000" font-weight="bold" textLength="58.8" lengthAdjust="spacingAndGlyphs" >400</text>
<text x="1508.2" y="686.5" font-size="35" text-anchor="start" fill="#000" font-weight="bold" textLength="58.8" lengthAdjust="spacingAndGlyphs" >500</text>
<text x="1685.9" y="686.5" font-size="35" text-anchor="start" fill="#000" font-weight="bold" textLength="58.8" lengthAdjust="spacingAndGlyphs" >600</text>
<text x="1863.1" y="686.5" font-size="35" text-anchor="start" fill="#000" font-weight="bold" textLength="58.8" lengthAdjust="spacingAndGlyphs" >700</text>
<text x="2041.2" y="686.5" font-size="35" text-anchor="start" fill="#000" font-weight="bold" textLength="58.8" lengthAdjust="spacingAndGlyphs" >800</text>
<text x="1244.4" y="34.8" font-size="46" text-anchor="start" fill="#000" font-weight="bold" textLength="58.18" lengthAdjust="spacingAndGlyphs" >(b)</text>
<text x="1534.1" y="736.0" font-size="46" text-anchor="start" fill="#000" font-weight="bold" textLength="360.83" lengthAdjust="spacingAndGlyphs" >Wavelength (nm)</text>
<text x="1284.3" y="557.3" font-size="46" text-anchor="start" fill="#000" font-weight="bold" textLength="397.89" lengthAdjust="spacingAndGlyphs" transform="rotate(-90 1284.3 557.3)" >Transmittance (%)</text>
<line x1="1810.00" y1="376.60" x2="1879.00" y2="376.60" stroke="#515151" stroke-width="4.5" stroke-linecap="round"/>
<text x="1896.3" y="385.6" font-size="33" text-anchor="start" fill="#000" font-weight="bold" textLength="17.82" lengthAdjust="spacingAndGlyphs" >6</text>
<text x="1932.5" y="385.6" font-size="33" text-anchor="start" fill="#000" font-weight="bold" textLength="103.91" lengthAdjust="spacingAndGlyphs" >nm Au</text>
<line x1="1810.00" y1="422.36" x2="1879.00" y2="422.36" stroke="#F14040" stroke-width="4.5" stroke-linecap="round"/>
<text x="1896.3" y="431.4" font-size="33" text-anchor="start" fill="#000" font-weight="bold" textLength="17.82" lengthAdjust="spacingAndGlyphs" >8</text>
<text x="1932.5" y="431.4" font-size="33" text-anchor="start" fill="#000" font-weight="bold" textLength="103.91" lengthAdjust="spacingAndGlyphs" >nm Au</text>
<line x1="1810.00" y1="468.12" x2="1879.00" y2="468.12" stroke="#1A6FDF" stroke-width="4.5" stroke-linecap="round"/>
<text x="1885.1" y="477.1" font-size="33" text-anchor="start" fill="#000" font-weight="bold" textLength="36.29" lengthAdjust="spacingAndGlyphs" >10</text>
<text x="1931.5" y="477.1" font-size="33" text-anchor="start" fill="#000" font-weight="bold" textLength="103.91" lengthAdjust="spacingAndGlyphs" >nm Au</text>
<line x1="1810.00" y1="513.88" x2="1879.00" y2="513.88" stroke="#37AD6B" stroke-width="4.5" stroke-linecap="round"/>
<text x="1885.1" y="522.9" font-size="33" text-anchor="start" fill="#000" font-weight="bold" textLength="36.49" lengthAdjust="spacingAndGlyphs" >12</text>
<text x="1931.5" y="522.9" font-size="33" text-anchor="start" fill="#000" font-weight="bold" textLength="103.91" lengthAdjust="spacingAndGlyphs" >nm Au</text>
<line x1="1810.00" y1="559.64" x2="1879.00" y2="559.64" stroke="#B177DE" stroke-width="4.5" stroke-linecap="round"/>
<text x="1885.2" y="568.6" font-size="33" text-anchor="start" fill="#000" font-weight="bold" textLength="35.5" lengthAdjust="spacingAndGlyphs" >14</text>
<text x="1931.5" y="568.6" font-size="33" text-anchor="start" fill="#000" font-weight="bold" textLength="103.91" lengthAdjust="spacingAndGlyphs" >nm Au</text>
<line x1="1810.00" y1="605.40" x2="1879.00" y2="605.40" stroke="#CC9900" stroke-width="4.5" stroke-linecap="round"/>
<text x="1885.1" y="614.4" font-size="33" text-anchor="start" fill="#000" font-weight="bold" textLength="35.93" lengthAdjust="spacingAndGlyphs" >16</text>
<text x="1931.5" y="614.4" font-size="33" text-anchor="start" fill="#000" font-weight="bold" textLength="103.91" lengthAdjust="spacingAndGlyphs" >nm Au</text>
<filter id="sem1" x="0" y="0" width="100%" height="100%" color-interpolation-filters="sRGB"><feTurbulence type="fractalNoise" baseFrequency="0.05" numOctaves="4" seed="7" result="a"/><feColorMatrix in="a" type="matrix" values="0.2 0 0 0 0.236  0.2 0 0 0 0.236  0.2 0 0 0 0.236  0 0 0 0 1" result="ga"/><feTurbulence type="turbulence" baseFrequency="0.045" numOctaves="1" seed="3" result="b"/><feColorMatrix in="b" type="matrix" values="1 0 0 0 0.84  1 0 0 0 0.84  1 0 0 0 0.84  0 0 0 0 1" result="gb"/><feComposite in="ga" in2="gb" operator="arithmetic" k1="1" k2="0" k3="0" k4="0" result="c"/><feGaussianBlur in="c" stdDeviation="0.7"/></filter>
<filter id="sem2" x="0" y="0" width="100%" height="100%" color-interpolation-filters="sRGB"><feTurbulence type="fractalNoise" baseFrequency="0.08" numOctaves="4" seed="11" result="a"/><feColorMatrix in="a" type="matrix" values="0.19 0 0 0 0.229  0.19 0 0 0 0.229  0.19 0 0 0 0.229  0 0 0 0 1" result="ga"/><feTurbulence type="turbulence" baseFrequency="0.07" numOctaves="1" seed="5" result="b"/><feColorMatrix in="b" type="matrix" values="1 0 0 0 0.84  1 0 0 0 0.84  1 0 0 0 0.84  0 0 0 0 1" result="gb"/><feComposite in="ga" in2="gb" operator="arithmetic" k1="1" k2="0" k3="0" k4="0" result="c"/><feGaussianBlur in="c" stdDeviation="0.7"/></filter>
<linearGradient id="g1" x1="0" y1="0" x2="0.35" y2="1"><stop offset="0" stop-color="#fff" stop-opacity="0.05"/><stop offset="0.45" stop-color="#fff" stop-opacity="0"/><stop offset="1" stop-color="#000" stop-opacity="0.06"/></linearGradient>
<rect x="63" y="757.5" width="897.5" height="320.5" fill="#505050" filter="url(#sem1)"/>
<rect x="63" y="1089.5" width="899" height="320.5" fill="#505050" filter="url(#sem2)"/>
<rect x="63" y="757.5" width="897.5" height="320.5" fill="url(#g1)"/>
<text x="703.7" y="842.5" font-size="64" text-anchor="start" fill="#fff" font-weight="bold" textLength="232.81" lengthAdjust="spacingAndGlyphs" >8 nm Au</text>
<text x="674.0" y="1169.5" font-size="64" text-anchor="start" fill="#fff" font-weight="bold" textLength="265.1" lengthAdjust="spacingAndGlyphs" >10 nm Au</text>
<text stroke="#ececec" stroke-width="0.8" x="777.6" y="1365.3" font-size="29.5" text-anchor="start" fill="#ececec" font-weight="normal" font-family="'Liberation Sans',Arial,sans-serif" textLength="97.35" lengthAdjust="spacingAndGlyphs" >100 nm</text>
<rect x="784" y="1380" width="71" height="5.3" fill="#f2f2f2"/>
<text x="3.4" y="763.5" font-size="46" text-anchor="start" fill="#000" font-weight="bold" textLength="53.21" lengthAdjust="spacingAndGlyphs" >(c)</text>
<clipPath id="clipD"><rect x="1366.5" y="757.3" width="707.4000000000001" height="574.7"/></clipPath>
<g clip-path="url(#clipD)">
<polyline points="1367.0,1316.5 1369.0,1316.5 1371.0,1316.5 1373.0,1316.5 1375.0,1316.5 1377.0,1316.5 1379.0,1316.5 1381.0,1316.5 1383.0,1316.5 1385.0,1316.5 1387.0,1316.5 1389.1,1316.5 1391.1,1316.5 1393.1,1316.5 1395.1,1316.5 1397.1,1316.6 1399.1,1316.6 1401.1,1316.6 1403.1,1316.6 1405.1,1316.6 1407.1,1316.6 1409.1,1316.6 1411.1,1316.6 1413.1,1316.6 1415.1,1316.6 1417.1,1316.6 1419.1,1316.6 1421.1,1316.6 1423.1,1316.6 1425.1,1316.6 1427.1,1316.6 1429.1,1316.6 1431.1,1316.6 1433.2,1316.6 1435.2,1316.6 1437.2,1316.6 1439.2,1316.7 1441.2,1316.7 1443.2,1316.7 1445.2,1316.7 1447.2,1316.7 1449.2,1316.7 1451.2,1316.7 1453.2,1316.7 1455.2,1316.7 1457.2,1316.7 1459.2,1316.7 1461.2,1316.7 1463.2,1316.7 1465.2,1316.7 1467.2,1316.7 1469.2,1316.8 1471.3,1316.8 1473.3,1316.8 1475.3,1316.8 1477.3,1316.8 1479.3,1316.8 1481.3,1316.8 1483.3,1316.8 1485.3,1316.8 1487.3,1316.8 1489.3,1316.8 1491.3,1316.8 1493.3,1316.8 1495.3,1316.8 1497.3,1316.8 1499.3,1316.8 1501.3,1316.8 1503.3,1316.8 1505.3,1316.8 1507.3,1316.8 1509.3,1316.7 1511.4,1316.7 1513.4,1316.6 1515.4,1316.6 1517.4,1316.5 1519.4,1316.5 1521.4,1316.4 1523.4,1316.3 1525.4,1316.2 1527.4,1316.1 1529.4,1316.0 1531.4,1315.9 1533.4,1315.8 1535.4,1315.7 1537.4,1315.6 1539.4,1315.4 1541.4,1315.3 1543.4,1315.2 1545.4,1315.1 1547.4,1315.0 1549.4,1314.9 1551.4,1314.7 1553.4,1314.6 1555.4,1314.5 1557.4,1314.4 1559.4,1314.3 1561.4,1314.2 1563.4,1314.1 1565.4,1314.1 1567.4,1314.0 1569.4,1313.9 1571.4,1313.8 1573.4,1313.7 1575.4,1313.6 1577.4,1313.5 1579.4,1313.4 1581.4,1313.3 1583.4,1313.2 1585.4,1313.0 1587.4,1312.9 1589.4,1312.8 1591.4,1312.6 1593.4,1312.4 1595.4,1312.3 1597.4,1312.1 1599.4,1311.9 1601.4,1311.7 1603.4,1311.4 1605.4,1311.2 1607.4,1310.9 1609.4,1310.6 1611.4,1310.3 1613.4,1310.0 1615.3,1309.6 1617.3,1309.2 1619.2,1308.7 1621.2,1308.1 1623.1,1307.5 1625.0,1306.9 1626.9,1306.2 1628.7,1305.4 1630.5,1304.5 1632.3,1303.6 1634.1,1302.6 1635.8,1301.6 1637.5,1300.5 1639.2,1299.3 1640.8,1298.0 1642.3,1296.7 1643.8,1295.3 1645.3,1293.9 1646.7,1292.4 1648.1,1290.9 1649.6,1289.5 1651.0,1288.0 1652.4,1286.6 1653.9,1285.2 1655.4,1283.9 1656.9,1282.6 1658.5,1281.5 1660.1,1280.5 1661.8,1279.6 1663.6,1278.8 1665.5,1278.2 1667.4,1277.7 1669.4,1277.3 1671.4,1277.0 1673.4,1276.7 1675.5,1276.5 1677.6,1276.3 1679.6,1276.2 1681.7,1276.1 1683.7,1276.0 1685.8,1275.9 1687.8,1275.7 1689.8,1275.5 1691.7,1275.2 1693.6,1274.7 1695.5,1274.2 1697.4,1273.5 1699.2,1272.7 1701.0,1271.8 1702.8,1270.8 1704.5,1269.7 1706.2,1268.5 1707.8,1267.3 1709.4,1266.1 1710.9,1264.8 1712.5,1263.5 1714.0,1262.1 1715.4,1260.7 1716.8,1259.3 1718.2,1257.8 1719.6,1256.4 1720.9,1254.9 1722.2,1253.4 1723.5,1251.8 1724.7,1250.2 1725.9,1248.7 1727.1,1247.0 1728.3,1245.4 1729.5,1243.8 1730.6,1242.1 1731.7,1240.5 1732.8,1238.8 1733.9,1237.1 1735.0,1235.4 1736.1,1233.8 1737.2,1232.1 1738.3,1230.4 1739.4,1228.7 1740.5,1227.0 1741.5,1225.3 1742.6,1223.6 1743.7,1221.9 1744.8,1220.2 1745.8,1218.5 1746.9,1216.9 1748.0,1215.2 1749.1,1213.5 1750.2,1211.8 1751.3,1210.2 1752.4,1208.5 1753.6,1206.8 1754.7,1205.2 1755.8,1203.5 1756.9,1201.8 1758.1,1200.2 1759.2,1198.5 1760.3,1196.9 1761.4,1195.2 1762.5,1193.5 1763.6,1191.8 1764.7,1190.2 1765.8,1188.5 1766.9,1186.8 1767.9,1185.1 1769.0,1183.4 1770.0,1181.6 1771.0,1179.9 1772.0,1178.2 1773.0,1176.5 1774.0,1174.7 1775.0,1173.0 1776.0,1171.2 1777.0,1169.5 1777.9,1167.7 1778.9,1165.9 1779.8,1164.2 1780.8,1162.4 1781.7,1160.6 1782.7,1158.9 1783.6,1157.1 1784.5,1155.3 1785.4,1153.5 1786.4,1151.7 1787.3,1149.9 1788.2,1148.2 1789.1,1146.4 1790.0,1144.6 1791.0,1142.8 1791.9,1141.0 1792.8,1139.3 1793.8,1137.5 1794.7,1135.7 1795.7,1134.0 1796.7,1132.2 1797.6,1130.5 1798.6,1128.7 1799.6,1127.0 1800.6,1125.3 1801.7,1123.6 1802.7,1121.8 1803.7,1120.1 1804.8,1118.4 1805.9,1116.7 1807.0,1115.1 1808.0,1113.4 1809.1,1111.7 1810.2,1110.0 1811.3,1108.3 1812.4,1106.7 1813.5,1105.0 1814.6,1103.3 1815.8,1101.6 1816.9,1100.0 1818.0,1098.3 1819.1,1096.6 1820.2,1094.9 1821.3,1093.3 1822.4,1091.6 1823.4,1089.9 1824.5,1088.2 1825.6,1086.5 1826.7,1084.8 1827.7,1083.1 1828.7,1081.3 1829.8,1079.6 1830.8,1077.9 1831.8,1076.2 1832.8,1074.4 1833.7,1072.6 1834.7,1070.9 1835.6,1069.1 1836.5,1067.3 1837.4,1065.5 1838.3,1063.7 1839.1,1061.9 1840.0,1060.1 1840.8,1058.2 1841.6,1056.4 1842.3,1054.5 1843.1,1052.7 1843.8,1050.8 1844.5,1048.9 1845.2,1047.0 1845.8,1045.2 1846.5,1043.3 1847.1,1041.3 1847.7,1039.4 1848.3,1037.5 1848.8,1035.6 1849.4,1033.7 1849.9,1031.7 1850.5,1029.8 1851.0,1027.9 1851.5,1025.9 1852.0,1024.0 1852.5,1022.0 1853.0,1020.1 1853.5,1018.1 1854.0,1016.2 1854.5,1014.3 1855.0,1012.3 1855.5,1010.4 1856.0,1008.4 1856.6,1006.5 1857.1,1004.6 1857.7,1002.7 1858.3,1000.7 1858.8,998.8 1859.5,996.9 1860.1,995.0 1860.7,993.1 1861.3,991.2 1862.0,989.3 1862.6,987.4 1863.3,985.5 1864.0,983.6 1864.6,981.7 1865.3,979.9 1866.0,978.0 1866.7,976.1 1867.4,974.2 1868.2,972.3 1868.9,970.5 1869.6,968.6 1870.3,966.7 1871.1,964.9 1871.8,963.0 1872.5,961.1 1873.3,959.3 1874.0,957.4 1874.7,955.6 1875.5,953.7 1876.2,951.8 1877.0,950.0 1877.7,948.1 1878.5,946.3 1879.2,944.4 1880.0,942.5 1880.7,940.7 1881.5,938.8 1882.2,936.9 1883.0,935.1 1883.7,933.2 1884.5,931.4 1885.2,929.5 1885.9,927.6 1886.7,925.8 1887.4,923.9 1888.1,922.0 1888.9,920.1 1889.6,918.3 1890.3,916.4 1891.1,914.5 1891.8,912.7 1892.6,910.8 1893.3,909.0 1894.1,907.1 1894.8,905.2 1895.6,903.4 1896.3,901.5 1897.1,899.7 1897.9,897.8 1898.7,896.0 1899.5,894.1 1900.3,892.3 1901.1,890.5 1901.9,888.7 1902.8,886.8 1903.6,885.0 1904.5,883.2 1905.3,881.4 1906.2,879.6 1907.1,877.8 1908.0,876.0 1908.9,874.2 1909.8,872.5 1910.8,870.7 1911.7,868.9 1912.7,867.2 1913.6,865.4 1914.6,863.7 1915.6,861.9 1916.6,860.2 1917.5,858.4 1918.5,856.7 1919.5,855.0 1920.6,853.2 1921.6,851.5 1922.6,849.8 1923.6,848.0 1924.6,846.3 1925.6,844.6 1926.7,842.8 1927.7,841.1 1928.7,839.4 1929.7,837.7 1930.8,835.9 1931.8,834.2 1932.8,832.5 1933.8,830.7 1934.8,829.0 1935.8,827.3 1936.8,825.5 1937.8,823.8 1938.8,822.1 1939.8,820.3 1940.8,818.6 1941.8,816.8 1942.8,815.1 1943.7,813.3 1944.7,811.5 1945.6,809.8 1946.6,808.0 1947.5,806.2 1948.5,804.5 1949.4,802.7 1950.4,800.9 1951.3,799.2 1952.2,797.4 1953.2,795.6 1954.1,793.8 1955.0,792.1 1956.0,790.3 1956.9,788.5 1957.9,786.8 1958.8,785.0 1959.7,783.2 1960.7,781.5 1961.6,779.7 1962.6,777.9 1963.5,776.1 1964.5,774.4 1965.4,772.6 1966.4,770.9 1967.3,769.1 1968.3,767.3 1969.3,765.6 1970.2,763.8 1971.2,762.0 1972.1,760.3 1973.1,758.5 1974.0,756.8 1975.0,755.0" fill="none" stroke="#0000ff" stroke-width="4" stroke-linejoin="round" />
<polyline points="1367.0,1319.0 1369.0,1319.0 1371.0,1319.1 1373.0,1319.1 1375.0,1319.1 1377.0,1319.2 1379.0,1319.2 1381.0,1319.2 1383.0,1319.3 1385.1,1319.3 1387.1,1319.4 1389.1,1319.4 1391.1,1319.4 1393.1,1319.4 1395.1,1319.5 1397.1,1319.5 1399.1,1319.5 1401.1,1319.6 1403.1,1319.6 1405.1,1319.6 1407.1,1319.6 1409.1,1319.6 1411.1,1319.7 1413.1,1319.7 1415.2,1319.7 1417.2,1319.7 1419.2,1319.7 1421.2,1319.7 1423.2,1319.7 1425.2,1319.7 1427.2,1319.7 1429.2,1319.7 1431.2,1319.7 1433.2,1319.7 1435.2,1319.7 1437.2,1319.7 1439.2,1319.7 1441.3,1319.7 1443.3,1319.7 1445.3,1319.7 1447.3,1319.6 1449.3,1319.6 1451.3,1319.6 1453.3,1319.6 1455.3,1319.5 1457.3,1319.5 1459.3,1319.4 1461.3,1319.4 1463.4,1319.4 1465.4,1319.3 1467.4,1319.2 1469.4,1319.2 1471.4,1319.1 1473.4,1319.1 1475.4,1319.0 1477.4,1318.9 1479.4,1318.8 1481.4,1318.7 1483.5,1318.7 1485.5,1318.6 1487.5,1318.5 1489.5,1318.3 1491.5,1318.2 1493.5,1318.1 1495.5,1318.0 1497.5,1317.8 1499.5,1317.7 1501.5,1317.5 1503.5,1317.3 1505.5,1317.1 1507.5,1316.9 1509.5,1316.7 1511.5,1316.5 1513.5,1316.2 1515.5,1316.0 1517.5,1315.7 1519.4,1315.4 1521.4,1315.1 1523.4,1314.7 1525.3,1314.4 1527.3,1314.0 1529.3,1313.6 1531.2,1313.2 1533.2,1312.8 1535.2,1312.3 1537.1,1311.9 1539.1,1311.4 1541.0,1311.0 1543.0,1310.5 1545.0,1310.0 1546.9,1309.4 1548.9,1308.9 1550.8,1308.4 1552.8,1307.8 1554.7,1307.2 1556.7,1306.6 1558.6,1305.9 1560.5,1305.2 1562.3,1304.5 1564.2,1303.7 1566.0,1302.9 1567.8,1302.0 1569.6,1301.1 1571.3,1300.1 1573.0,1299.0 1574.6,1297.9 1576.2,1296.7 1577.8,1295.4 1579.3,1294.2 1580.9,1292.9 1582.4,1291.5 1583.9,1290.2 1585.4,1288.8 1586.9,1287.4 1588.4,1286.1 1589.8,1284.7 1591.3,1283.3 1592.8,1281.9 1594.3,1280.5 1595.7,1279.2 1597.1,1277.7 1598.6,1276.3 1600.0,1274.9 1601.3,1273.5 1602.7,1272.0 1604.0,1270.5 1605.4,1269.0 1606.6,1267.5 1607.9,1265.9 1609.1,1264.4 1610.4,1262.8 1611.6,1261.2 1612.7,1259.5 1613.9,1257.9 1615.1,1256.3 1616.2,1254.6 1617.4,1252.9 1618.5,1251.3 1619.6,1249.6 1620.8,1247.9 1621.9,1246.3 1623.1,1244.6 1624.2,1242.9 1625.4,1241.3 1626.6,1239.7 1627.8,1238.1 1629.0,1236.5 1630.3,1234.9 1631.6,1233.4 1632.9,1231.9 1634.3,1230.4 1635.7,1229.0 1637.2,1227.7 1638.7,1226.4 1640.2,1225.1 1641.8,1223.9 1643.4,1222.7 1645.1,1221.6 1646.7,1220.4 1648.4,1219.3 1650.1,1218.3 1651.9,1217.2 1653.6,1216.1 1655.4,1215.1 1657.1,1214.1 1658.9,1213.0 1660.7,1212.0 1662.4,1211.1 1664.2,1210.1 1666.1,1209.2 1667.9,1208.4 1669.7,1207.5 1671.6,1206.8 1673.4,1206.1 1675.3,1205.5 1677.3,1205.0 1679.2,1204.5 1681.2,1204.2 1683.1,1203.9 1685.1,1203.6 1687.1,1203.4 1689.1,1203.2 1691.1,1203.0 1693.1,1202.8 1695.1,1202.6 1697.1,1202.3 1699.1,1202.0 1701.1,1201.6 1703.0,1201.1 1705.0,1200.6 1706.9,1200.1 1708.8,1199.5 1710.7,1198.8 1712.6,1198.2 1714.5,1197.5 1716.4,1196.8 1718.3,1196.1 1720.2,1195.4 1722.1,1194.6 1724.0,1193.9 1725.9,1193.2 1727.7,1192.4 1729.6,1191.6 1731.4,1190.8 1733.2,1190.0 1735.1,1189.1 1736.8,1188.2 1738.6,1187.3 1740.4,1186.3 1742.1,1185.3 1743.8,1184.2 1745.5,1183.1 1747.1,1182.0 1748.7,1180.8 1750.3,1179.6 1751.9,1178.4 1753.5,1177.1 1755.0,1175.8 1756.5,1174.5 1758.1,1173.1 1759.5,1171.8 1761.0,1170.4 1762.5,1169.0 1764.0,1167.6 1765.4,1166.3 1766.8,1164.9 1768.3,1163.4 1769.7,1162.0 1771.1,1160.6 1772.5,1159.2 1773.9,1157.8 1775.4,1156.3 1776.8,1154.9 1778.2,1153.5 1779.5,1152.0 1780.9,1150.6 1782.3,1149.1 1783.7,1147.7 1785.1,1146.2 1786.5,1144.7 1787.9,1143.3 1789.2,1141.8 1790.6,1140.3 1791.9,1138.8 1793.3,1137.3 1794.6,1135.8 1795.9,1134.2 1797.1,1132.7 1798.4,1131.1 1799.6,1129.5 1800.8,1127.9 1802.0,1126.3 1803.2,1124.7 1804.3,1123.0 1805.4,1121.3 1806.5,1119.6 1807.6,1117.9 1808.6,1116.2 1809.7,1114.5 1810.7,1112.8 1811.8,1111.0 1812.8,1109.3 1813.9,1107.6 1815.0,1105.9 1816.1,1104.3 1817.2,1102.6 1818.4,1101.0 1819.6,1099.4 1820.8,1097.8 1822.1,1096.3 1823.5,1094.8 1824.9,1093.4 1826.3,1092.0 1827.8,1090.6 1829.3,1089.3 1830.8,1088.0 1832.4,1086.7 1834.1,1085.5 1835.7,1084.3 1837.4,1083.2 1839.1,1082.1 1840.8,1081.0 1842.5,1080.0 1844.3,1079.0 1846.1,1078.0 1847.8,1077.1 1849.6,1076.2 1851.4,1075.3 1853.3,1074.5 1855.1,1073.7 1856.9,1072.8 1858.8,1072.0 1860.6,1071.2 1862.4,1070.4 1864.3,1069.7 1866.1,1068.9 1868.0,1068.1 1869.8,1067.3 1871.7,1066.5 1873.5,1065.6 1875.3,1064.8 1877.1,1063.9 1879.0,1063.1 1880.8,1062.2 1882.6,1061.3 1884.4,1060.4 1886.2,1059.6 1888.0,1058.7 1889.8,1057.8 1891.6,1056.9 1893.4,1056.1 1895.2,1055.2 1897.1,1054.4 1898.9,1053.6 1900.7,1052.8 1902.6,1052.0 1904.4,1051.2 1906.3,1050.5 1908.2,1049.8 1910.1,1049.1 1912.0,1048.5 1913.9,1047.8 1915.8,1047.2 1917.7,1046.6 1919.6,1046.0 1921.5,1045.4 1923.5,1044.8 1925.4,1044.2 1927.3,1043.6 1929.2,1042.9 1931.1,1042.3 1933.0,1041.7 1934.9,1041.0 1936.8,1040.3 1938.7,1039.6 1940.5,1038.9 1942.4,1038.2 1944.2,1037.4 1946.0,1036.6 1947.9,1035.8 1949.7,1035.0 1951.5,1034.1 1953.3,1033.3 1955.1,1032.4 1956.9,1031.5 1958.7,1030.6 1960.5,1029.7 1962.3,1028.8 1964.1,1027.8 1965.9,1026.9 1967.7,1025.9 1969.5,1025.0 1971.3,1024.0 1973.1,1022.9 1974.8,1021.8 1976.4,1020.7 1978.0,1019.5 1979.5,1018.1 1980.8,1016.7 1982.1,1015.2 1983.3,1013.6 1984.4,1011.9 1985.5,1010.2 1986.5,1008.5 1987.5,1006.7 1988.5,1004.9 1989.6,1003.2 1990.6,1001.4 1991.7,999.7 1992.7,998.0 1993.8,996.3 1994.9,994.6 1995.9,992.9 1996.9,991.2 1998.0,989.4 1999.0,987.7 1999.9,986.0 2000.9,984.2 2001.8,982.5 2002.7,980.7 2003.5,978.9 2004.4,977.0 2005.1,975.2 2005.9,973.4 2006.7,971.5 2007.4,969.6 2008.1,967.7 2008.7,965.8 2009.4,963.9 2010.0,962.0 2010.6,960.1 2011.2,958.2 2011.8,956.2 2012.4,954.3 2013.0,952.3 2013.5,950.4 2014.0,948.4 2014.6,946.5 2015.1,944.5 2015.6,942.6 2016.1,940.6 2016.6,938.7 2017.1,936.7 2017.6,934.8 2018.1,932.8 2018.5,930.8 2019.0,928.9 2019.5,926.9 2020.0,925.0 2020.4,923.0 2020.9,921.1 2021.3,919.1 2021.8,917.2 2022.2,915.2 2022.7,913.2 2023.1,911.3 2023.6,909.3 2024.0,907.4 2024.5,905.4 2024.9,903.5 2025.3,901.5 2025.8,899.6 2026.2,897.6 2026.6,895.6 2027.0,893.7 2027.5,891.7 2027.9,889.8 2028.3,887.8 2028.7,885.8 2029.2,883.9 2029.6,881.9 2030.0,880.0 2030.4,878.0 2030.9,876.0 2031.3,874.1 2031.7,872.1 2032.1,870.2 2032.6,868.2 2033.0,866.2 2033.5,864.3 2033.9,862.3 2034.4,860.4 2034.9,858.4 2035.4,856.5 2035.8,854.5 2036.4,852.6 2036.9,850.6 2037.4,848.7 2038.0,846.8 2038.5,844.8 2039.1,842.9 2039.7,841.0 2040.3,839.1 2040.9,837.2 2041.5,835.3 2042.2,833.4 2042.9,831.5 2043.5,829.6 2044.2,827.7 2044.9,825.8 2045.6,824.0 2046.3,822.1 2047.0,820.2 2047.7,818.3 2048.3,816.4 2049.0,814.5 2049.7,812.6 2050.4,810.7 2051.1,808.8 2051.7,806.9 2052.4,805.0 2053.0,803.1 2053.7,801.2 2054.4,799.3 2055.1,797.4 2055.8,795.5 2056.5,793.6 2057.2,791.7 2058.0,789.9 2058.8,788.1 2059.7,786.3 2060.6,784.5 2061.6,782.7 2062.6,781.0 2063.6,779.3 2064.8,777.7 2065.9,776.0 2067.1,774.4 2068.3,772.8 2069.5,771.2 2070.8,769.6 2072.0,768.0" fill="none" stroke="#ffff00" stroke-width="4" stroke-linejoin="round" />
<line x1="1850.00" y1="1030.00" x2="1767.00" y2="1325.00" stroke="#0000ff" stroke-width="2" stroke-linecap="butt"/>
<polygon points="1766,1331 1762,1316 1772.5,1318" fill="#0000ff"/>
<line x1="2002.00" y1="985.00" x2="1909.00" y2="1325.00" stroke="#ffff00" stroke-width="2" stroke-linecap="butt"/>
<polygon points="1908,1331 1904,1316 1914.5,1318" fill="#ffff00"/>
</g>
<line x1="1366.50" y1="1332.00" x2="1366.50" y2="1320.00" stroke="#000" stroke-width="6" stroke-linecap="butt"/>
<line x1="1425.45" y1="1332.00" x2="1425.45" y2="1326.00" stroke="#000" stroke-width="6" stroke-linecap="butt"/>
<line x1="1484.40" y1="1332.00" x2="1484.40" y2="1320.00" stroke="#000" stroke-width="6" stroke-linecap="butt"/>
<line x1="1543.35" y1="1332.00" x2="1543.35" y2="1326.00" stroke="#000" stroke-width="6" stroke-linecap="butt"/>
<line x1="1602.30" y1="1332.00" x2="1602.30" y2="1320.00" stroke="#000" stroke-width="6" stroke-linecap="butt"/>
<line x1="1661.25" y1="1332.00" x2="1661.25" y2="1326.00" stroke="#000" stroke-width="6" stroke-linecap="butt"/>
<line x1="1720.20" y1="1332.00" x2="1720.20" y2="1320.00" stroke="#000" stroke-width="6" stroke-linecap="butt"/>
<line x1="1779.15" y1="1332.00" x2="1779.15" y2="1326.00" stroke="#000" stroke-width="6" stroke-linecap="butt"/>
<line x1="1838.10" y1="1332.00" x2="1838.10" y2="1320.00" stroke="#000" stroke-width="6" stroke-linecap="butt"/>
<line x1="1897.05" y1="1332.00" x2="1897.05" y2="1326.00" stroke="#000" stroke-width="6" stroke-linecap="butt"/>
<line x1="1956.00" y1="1332.00" x2="1956.00" y2="1320.00" stroke="#000" stroke-width="6" stroke-linecap="butt"/>
<line x1="2014.95" y1="1332.00" x2="2014.95" y2="1326.00" stroke="#000" stroke-width="6" stroke-linecap="butt"/>
<line x1="2073.90" y1="1332.00" x2="2073.90" y2="1320.00" stroke="#000" stroke-width="6" stroke-linecap="butt"/>
<line x1="1366.50" y1="900.00" x2="1373.30" y2="900.00" stroke="#000" stroke-width="6" stroke-linecap="butt"/>
<line x1="1366.50" y1="1044.00" x2="1378.30" y2="1044.00" stroke="#000" stroke-width="6" stroke-linecap="butt"/>
<line x1="1366.50" y1="1188.00" x2="1373.30" y2="1188.00" stroke="#000" stroke-width="6" stroke-linecap="butt"/>
<line x1="1362.70" y1="757.30" x2="2077.70" y2="757.30" stroke="#000" stroke-width="7.6" stroke-linecap="butt"/>
<line x1="1362.70" y1="1332.00" x2="2077.70" y2="1332.00" stroke="#000" stroke-width="7" stroke-linecap="butt"/>
<line x1="1366.50" y1="757.30" x2="1366.50" y2="1332.00" stroke="#000" stroke-width="7.7" stroke-linecap="butt"/>
<line x1="2073.90" y1="757.30" x2="2073.90" y2="1332.00" stroke="#000" stroke-width="7.8" stroke-linecap="butt"/>
<text x="1342.7" y="1375.8" font-size="33" text-anchor="start" fill="#000" font-weight="bold" textLength="47.44" lengthAdjust="spacingAndGlyphs" >2.0</text>
<text x="1460.6" y="1375.8" font-size="33" text-anchor="start" fill="#000" font-weight="bold" textLength="47.44" lengthAdjust="spacingAndGlyphs" >2.5</text>
<text x="1578.6" y="1375.8" font-size="33" text-anchor="start" fill="#000" font-weight="bold" textLength="47.44" lengthAdjust="spacingAndGlyphs" >3.0</text>
<text x="1696.5" y="1375.8" font-size="33" text-anchor="start" fill="#000" font-weight="bold" textLength="47.44" lengthAdjust="spacingAndGlyphs" >3.5</text>
<text x="1814.8" y="1375.8" font-size="33" text-anchor="start" fill="#000" font-weight="bold" textLength="47.44" lengthAdjust="spacingAndGlyphs" >4.0</text>
<text x="1932.7" y="1375.8" font-size="33" text-anchor="start" fill="#000" font-weight="bold" textLength="47.44" lengthAdjust="spacingAndGlyphs" >4.5</text>
<text x="2050.1" y="1375.8" font-size="33" text-anchor="start" fill="#000" font-weight="bold" textLength="47.44" lengthAdjust="spacingAndGlyphs" >5.0</text>
<text x="1244.2" y="797.3" font-size="46" text-anchor="start" fill="#000" font-weight="bold" textLength="58.72" lengthAdjust="spacingAndGlyphs" >(d)</text>
<text x="1485.0" y="1426.0" font-size="54" text-anchor="start" fill="#000" font-weight="bold" textLength="468.94" lengthAdjust="spacingAndGlyphs" >Kinetic energy (eV)</text>
<text x="1300.0" y="1221.4" font-size="52" text-anchor="start" fill="#000" font-weight="bold" textLength="353.39" lengthAdjust="spacingAndGlyphs" transform="rotate(-90 1300.0 1221.4)" >Intensity (a.u.)</text>
<line x1="1384.30" y1="805.60" x2="1458.00" y2="805.60" stroke="#0000ff" stroke-width="4" stroke-linecap="butt"/>
<line x1="1384.30" y1="853.30" x2="1458.00" y2="853.30" stroke="#ffff00" stroke-width="4" stroke-linecap="butt"/>
<text x="1465.4" y="815.5" font-size="32" text-anchor="start" fill="#000" font-weight="bold" textLength="191.59" lengthAdjust="spacingAndGlyphs" >50 nm ITO W</text>
<text x="1660.8" y="824.0" font-size="31" text-anchor="start" fill="#000" font-weight="bold" textLength="7.54" lengthAdjust="spacingAndGlyphs" >f</text>
<text x="1665.6" y="815.5" font-size="32" text-anchor="start" fill="#000" font-weight="bold" textLength="118.03" lengthAdjust="spacingAndGlyphs" >=3.70 eV</text>
<text x="1463.9" y="863.6" font-size="32" text-anchor="start" fill="#000" font-weight="bold" textLength="175.09" lengthAdjust="spacingAndGlyphs" >10 nm Au W</text>
<text x="1642.7" y="872.0" font-size="31" text-anchor="start" fill="#000" font-weight="bold" textLength="7.54" lengthAdjust="spacingAndGlyphs" >f</text>
<text x="1647.5" y="863.6" font-size="32" text-anchor="start" fill="#000" font-weight="bold" textLength="119.96" lengthAdjust="spacingAndGlyphs" >=4.29 eV</text></svg>
</body></html>
